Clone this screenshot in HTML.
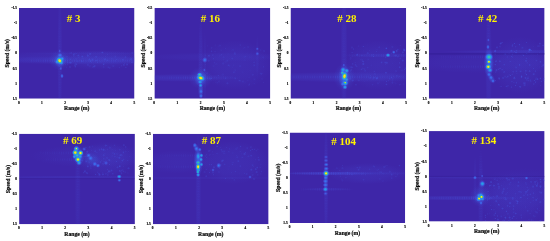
<!DOCTYPE html>
<html><head><meta charset="utf-8"><title>Range-Doppler maps</title>
<style>html,body{margin:0;padding:0;background:#fff}svg{display:block}text{font-family:"Liberation Serif",serif;font-weight:bold}</style></head><body>
<svg width="550" height="241" viewBox="0 0 550 241">
<defs>
<radialGradient id="hot"><stop offset="0" stop-color="#F7C82C"/><stop offset=".08" stop-color="#F9DE22"/><stop offset=".17" stop-color="#FBEE1E"/><stop offset=".27" stop-color="#E6CE30"/><stop offset=".4" stop-color="#7DCB5C"/><stop offset=".54" stop-color="#22B6CC"/><stop offset=".72" stop-color="#2E88F5" stop-opacity=".8"/><stop offset="1" stop-color="#4659EA" stop-opacity="0"/></radialGradient>
<radialGradient id="warm"><stop offset="0" stop-color="#5FCB7A"/><stop offset=".3" stop-color="#22B8CC"/><stop offset=".6" stop-color="#2E88F5" stop-opacity=".8"/><stop offset="1" stop-color="#4659EA" stop-opacity="0"/></radialGradient>
<radialGradient id="cyan"><stop offset="0" stop-color="#20B4D4"/><stop offset=".35" stop-color="#2A94F0" stop-opacity=".9"/><stop offset="1" stop-color="#4659EA" stop-opacity="0"/></radialGradient>
<radialGradient id="cool"><stop offset="0" stop-color="#2F84F6"/><stop offset=".4" stop-color="#3F6CF0" stop-opacity=".7"/><stop offset="1" stop-color="#4659EA" stop-opacity="0"/></radialGradient>
<radialGradient id="halo"><stop offset="0" stop-color="#2F86F4" stop-opacity=".85"/><stop offset=".5" stop-color="#3B72F0" stop-opacity=".55"/><stop offset="1" stop-color="#4659EA" stop-opacity="0"/></radialGradient>
<radialGradient id="faint"><stop offset="0" stop-color="#4464EC" stop-opacity=".9"/><stop offset="1" stop-color="#4659EA" stop-opacity="0"/></radialGradient>
<radialGradient id="st"><stop offset="0" stop-color="#4A58E4"/><stop offset=".55" stop-color="#4A58E4" stop-opacity=".75"/><stop offset="1" stop-color="#4A58E4" stop-opacity="0"/></radialGradient>
<linearGradient id="sv" x1="0" x2="1" y1="0" y2="0"><stop offset="0" stop-color="#4A55E0" stop-opacity="0"/><stop offset=".5" stop-color="#4A55E0"/><stop offset="1" stop-color="#4A55E0" stop-opacity="0"/></linearGradient>
<linearGradient id="sh" x1="0" x2="0" y1="0" y2="1"><stop offset="0" stop-color="#4A55E0" stop-opacity="0"/><stop offset=".5" stop-color="#4A55E0"/><stop offset="1" stop-color="#4A55E0" stop-opacity="0"/></linearGradient>

<clipPath id="c0"><rect x="19" y="8" width="115.5" height="90.7"/></clipPath>
<clipPath id="c1"><rect x="154.4" y="8" width="115.9" height="90.7"/></clipPath>
<clipPath id="c2"><rect x="290.5" y="8" width="115.7" height="90.7"/></clipPath>
<clipPath id="c3"><rect x="428.8" y="8" width="115.8" height="90.7"/></clipPath>
<clipPath id="c4"><rect x="19.1" y="133.7" width="115.8" height="90.6"/></clipPath>
<clipPath id="c5"><rect x="152.9" y="133.8" width="115.7" height="90.5"/></clipPath>
<clipPath id="c6"><rect x="289.7" y="132.5" width="115.5" height="90.6"/></clipPath>
<clipPath id="c7"><rect x="428.8" y="131.1" width="115.8" height="90.5"/></clipPath>
<filter id="bl" x="-20%" y="-20%" width="140%" height="140%"><feGaussianBlur stdDeviation="0.45"/></filter>
</defs>
<rect width="550" height="241" fill="#fff"/>
<g clip-path="url(#c0)">
<rect x="19" y="8" width="115.5" height="90.7" fill="#3E26A8"/>
<ellipse cx="59.8" cy="57.5" rx="2.55" ry="67.5" fill="url(#st)" opacity="0.15"/>
<ellipse cx="85" cy="60.2" rx="115" ry="4.23" fill="url(#st)" opacity="0.18"/>
<ellipse cx="90" cy="57.5" rx="110" ry="7.15" fill="url(#st)" opacity="0.14"/>
<ellipse cx="99.5" cy="53.4" rx="80.5" ry="1.3" fill="url(#st)" opacity="0.08"/>
<ellipse cx="57" cy="60.8" rx="0.9" ry="2.0" fill="url(#faint)" opacity="0.34"/>
<ellipse cx="54.7" cy="60.8" rx="0.9" ry="2.0" fill="url(#faint)" opacity="0.31"/>
<ellipse cx="52.4" cy="60.8" rx="0.9" ry="2.0" fill="url(#faint)" opacity="0.29"/>
<ellipse cx="50.1" cy="60.8" rx="0.9" ry="2.0" fill="url(#faint)" opacity="0.27"/>
<ellipse cx="47.8" cy="60.8" rx="0.9" ry="2.0" fill="url(#faint)" opacity="0.25"/>
<ellipse cx="45.5" cy="60.8" rx="0.9" ry="2.0" fill="url(#faint)" opacity="0.23"/>
<ellipse cx="43.2" cy="60.8" rx="0.9" ry="2.0" fill="url(#faint)" opacity="0.22"/>
<ellipse cx="40.9" cy="60.8" rx="0.9" ry="2.0" fill="url(#faint)" opacity="0.2"/>
<ellipse cx="38.6" cy="60.8" rx="0.9" ry="2.0" fill="url(#faint)" opacity="0.19"/>
<ellipse cx="36.3" cy="60.8" rx="0.9" ry="2.0" fill="url(#faint)" opacity="0.17"/>
<ellipse cx="34" cy="60.8" rx="0.9" ry="2.0" fill="url(#faint)" opacity="0.16"/>
<ellipse cx="31.7" cy="60.8" rx="0.9" ry="2.0" fill="url(#faint)" opacity="0.15"/>
<ellipse cx="63" cy="60.8" rx="0.9" ry="2.0" fill="url(#faint)" opacity="0.34"/>
<ellipse cx="65.3" cy="60.8" rx="0.9" ry="2.0" fill="url(#faint)" opacity="0.33"/>
<ellipse cx="67.6" cy="60.8" rx="0.9" ry="2.0" fill="url(#faint)" opacity="0.32"/>
<ellipse cx="69.9" cy="60.8" rx="0.9" ry="2.0" fill="url(#faint)" opacity="0.31"/>
<ellipse cx="72.2" cy="60.8" rx="0.9" ry="2.0" fill="url(#faint)" opacity="0.3"/>
<ellipse cx="74.5" cy="60.8" rx="0.9" ry="2.0" fill="url(#faint)" opacity="0.3"/>
<ellipse cx="76.8" cy="60.8" rx="0.9" ry="2.0" fill="url(#faint)" opacity="0.29"/>
<ellipse cx="79.1" cy="60.8" rx="0.9" ry="2.0" fill="url(#faint)" opacity="0.28"/>
<ellipse cx="81.4" cy="60.8" rx="0.9" ry="2.0" fill="url(#faint)" opacity="0.27"/>
<ellipse cx="83.7" cy="60.8" rx="0.9" ry="2.0" fill="url(#faint)" opacity="0.27"/>
<ellipse cx="86" cy="60.8" rx="0.9" ry="2.0" fill="url(#faint)" opacity="0.26"/>
<ellipse cx="88.3" cy="60.8" rx="0.9" ry="2.0" fill="url(#faint)" opacity="0.25"/>
<ellipse cx="90.6" cy="60.8" rx="0.9" ry="2.0" fill="url(#faint)" opacity="0.25"/>
<ellipse cx="92.9" cy="60.8" rx="0.9" ry="2.0" fill="url(#faint)" opacity="0.24"/>
<ellipse cx="95.2" cy="60.8" rx="0.9" ry="2.0" fill="url(#faint)" opacity="0.24"/>
<ellipse cx="97.5" cy="60.8" rx="0.9" ry="2.0" fill="url(#faint)" opacity="0.23"/>
<ellipse cx="99.8" cy="60.8" rx="0.9" ry="2.0" fill="url(#faint)" opacity="0.22"/>
<ellipse cx="102.1" cy="60.8" rx="0.9" ry="2.0" fill="url(#faint)" opacity="0.22"/>
<ellipse cx="104.4" cy="60.8" rx="0.9" ry="2.0" fill="url(#faint)" opacity="0.21"/>
<ellipse cx="106.7" cy="60.8" rx="0.9" ry="2.0" fill="url(#faint)" opacity="0.21"/>
<ellipse cx="109" cy="60.8" rx="0.9" ry="2.0" fill="url(#faint)" opacity="0.2"/>
<ellipse cx="111.3" cy="60.8" rx="0.9" ry="2.0" fill="url(#faint)" opacity="0.2"/>
<ellipse cx="113.6" cy="60.8" rx="0.9" ry="2.0" fill="url(#faint)" opacity="0.19"/>
<ellipse cx="115.9" cy="60.8" rx="0.9" ry="2.0" fill="url(#faint)" opacity="0.19"/>
<ellipse cx="118.2" cy="60.8" rx="0.9" ry="2.0" fill="url(#faint)" opacity="0.18"/>
<ellipse cx="120.5" cy="60.8" rx="0.9" ry="2.0" fill="url(#faint)" opacity="0.18"/>
<ellipse cx="122.8" cy="60.8" rx="0.9" ry="2.0" fill="url(#faint)" opacity="0.17"/>
<ellipse cx="125.1" cy="60.8" rx="0.9" ry="2.0" fill="url(#faint)" opacity="0.17"/>
<ellipse cx="127.4" cy="60.8" rx="0.9" ry="2.0" fill="url(#faint)" opacity="0.17"/>
<ellipse cx="129.7" cy="60.8" rx="0.9" ry="2.0" fill="url(#faint)" opacity="0.16"/>
<ellipse cx="132" cy="60.8" rx="0.9" ry="2.0" fill="url(#faint)" opacity="0.16"/>
<ellipse cx="59.8" cy="64" rx="2.2" ry="0.9" fill="url(#faint)" opacity="0.14"/>
<ellipse cx="59.8" cy="66.6" rx="2.2" ry="0.9" fill="url(#faint)" opacity="0.12"/>
<ellipse cx="59.8" cy="69.2" rx="2.2" ry="0.9" fill="url(#faint)" opacity="0.11"/>
<ellipse cx="59.8" cy="71.8" rx="2.2" ry="0.9" fill="url(#faint)" opacity="0.1"/>
<ellipse cx="59.8" cy="74.4" rx="2.2" ry="0.9" fill="url(#faint)" opacity="0.09"/>
<ellipse cx="59.8" cy="77" rx="2.2" ry="0.9" fill="url(#faint)" opacity="0.08"/>
<ellipse cx="59.8" cy="79.6" rx="2.2" ry="0.9" fill="url(#faint)" opacity="0.07"/>
<ellipse cx="59.8" cy="82.2" rx="2.2" ry="0.9" fill="url(#faint)" opacity="0.07"/>
<ellipse cx="59.8" cy="84.8" rx="2.2" ry="0.9" fill="url(#faint)" opacity="0.06"/>
<ellipse cx="59.8" cy="87.4" rx="2.2" ry="0.9" fill="url(#faint)" opacity="0.05"/>
<ellipse cx="59.8" cy="90" rx="2.2" ry="0.9" fill="url(#faint)" opacity="0.05"/>
<ellipse cx="59.8" cy="92.6" rx="2.2" ry="0.9" fill="url(#faint)" opacity="0.04"/>
<ellipse cx="59.8" cy="95.2" rx="2.2" ry="0.9" fill="url(#faint)" opacity="0.04"/>
<ellipse cx="59.8" cy="97.8" rx="2.2" ry="0.9" fill="url(#faint)" opacity="0.04"/>
<ellipse cx="59.8" cy="52" rx="2.2" ry="0.9" fill="url(#faint)" opacity="0.12"/>
<ellipse cx="59.8" cy="49.4" rx="2.2" ry="0.9" fill="url(#faint)" opacity="0.1"/>
<ellipse cx="59.8" cy="46.8" rx="2.2" ry="0.9" fill="url(#faint)" opacity="0.08"/>
<ellipse cx="59.8" cy="44.2" rx="2.2" ry="0.9" fill="url(#faint)" opacity="0.07"/>
<ellipse cx="59.8" cy="41.6" rx="2.2" ry="0.9" fill="url(#faint)" opacity="0.06"/>
<ellipse cx="59.8" cy="39" rx="2.2" ry="0.9" fill="url(#faint)" opacity="0.05"/>
<ellipse cx="59.8" cy="36.4" rx="2.2" ry="0.9" fill="url(#faint)" opacity="0.04"/>
<ellipse cx="59.8" cy="33.8" rx="2.2" ry="0.9" fill="url(#faint)" opacity="0.04"/>
<ellipse cx="59.8" cy="31.2" rx="2.2" ry="0.9" fill="url(#faint)" opacity="0.03"/>
<ellipse cx="59.8" cy="28.6" rx="2.2" ry="0.9" fill="url(#faint)" opacity="0.03"/>
<ellipse cx="59.8" cy="26" rx="2.2" ry="0.9" fill="url(#faint)" opacity="0.02"/>
<ellipse cx="59.8" cy="23.4" rx="2.2" ry="0.9" fill="url(#faint)" opacity="0.02"/>
<ellipse cx="59.8" cy="20.8" rx="2.2" ry="0.9" fill="url(#faint)" opacity="0.02"/>
<ellipse cx="99.5" cy="60" rx="42.78" ry="9.92" fill="url(#st)" opacity=".16"/>
<circle cx="87.34" cy="54.41" r="1.29" fill="url(#faint)" opacity="0.14"/>
<circle cx="101.98" cy="57.85" r="0.75" fill="url(#faint)" opacity="0.28"/>
<circle cx="67.59" cy="58.94" r="0.76" fill="url(#faint)" opacity="0.15"/>
<circle cx="94.29" cy="65.23" r="0.81" fill="url(#faint)" opacity="0.19"/>
<circle cx="108.29" cy="67.16" r="1.22" fill="url(#faint)" opacity="0.25"/>
<circle cx="132.36" cy="52.75" r="1.47" fill="url(#faint)" opacity="0.21"/>
<circle cx="74.95" cy="53.88" r="0.98" fill="url(#faint)" opacity="0.38"/>
<circle cx="77.47" cy="61.31" r="1.28" fill="url(#faint)" opacity="0.24"/>
<circle cx="102.79" cy="53" r="0.75" fill="url(#faint)" opacity="0.19"/>
<circle cx="111.95" cy="58.84" r="0.98" fill="url(#faint)" opacity="0.31"/>
<circle cx="96.27" cy="56.8" r="1.41" fill="url(#faint)" opacity="0.34"/>
<circle cx="81.84" cy="61.19" r="1.17" fill="url(#faint)" opacity="0.4"/>
<circle cx="115.33" cy="56.61" r="1.58" fill="url(#faint)" opacity="0.16"/>
<circle cx="93.85" cy="64.11" r="0.84" fill="url(#faint)" opacity="0.28"/>
<circle cx="67.71" cy="62.69" r="1.39" fill="url(#faint)" opacity="0.3"/>
<circle cx="125.41" cy="57.02" r="1.33" fill="url(#faint)" opacity="0.31"/>
<circle cx="105.01" cy="59.3" r="1.46" fill="url(#faint)" opacity="0.42"/>
<circle cx="97.71" cy="62.63" r="0.75" fill="url(#faint)" opacity="0.34"/>
<circle cx="109.65" cy="67.89" r="1.44" fill="url(#faint)" opacity="0.21"/>
<circle cx="91.62" cy="62.7" r="0.72" fill="url(#faint)" opacity="0.27"/>
<circle cx="76.6" cy="53.87" r="0.75" fill="url(#faint)" opacity="0.37"/>
<circle cx="73.92" cy="55.96" r="1.05" fill="url(#faint)" opacity="0.4"/>
<circle cx="70.56" cy="59.19" r="1.19" fill="url(#faint)" opacity="0.4"/>
<circle cx="121.53" cy="65.82" r="0.95" fill="url(#faint)" opacity="0.25"/>
<circle cx="89.76" cy="66.15" r="1.56" fill="url(#faint)" opacity="0.17"/>
<circle cx="77.16" cy="55.71" r="0.91" fill="url(#faint)" opacity="0.28"/>
<circle cx="105.65" cy="56.2" r="0.7" fill="url(#faint)" opacity="0.25"/>
<circle cx="90.48" cy="61.06" r="1.56" fill="url(#faint)" opacity="0.34"/>
<circle cx="100.57" cy="61.88" r="1.31" fill="url(#faint)" opacity="0.14"/>
<circle cx="127.07" cy="64.48" r="1.49" fill="url(#faint)" opacity="0.38"/>
<circle cx="92.07" cy="58.38" r="0.79" fill="url(#faint)" opacity="0.32"/>
<circle cx="69.3" cy="53.08" r="0.89" fill="url(#faint)" opacity="0.17"/>
<circle cx="88.46" cy="52.84" r="0.7" fill="url(#faint)" opacity="0.17"/>
<circle cx="72" cy="57.82" r="0.72" fill="url(#faint)" opacity="0.4"/>
<circle cx="107.37" cy="54.38" r="0.93" fill="url(#faint)" opacity="0.23"/>
<circle cx="90.13" cy="53.97" r="1.46" fill="url(#faint)" opacity="0.44"/>
<circle cx="97.15" cy="59.74" r="0.78" fill="url(#faint)" opacity="0.15"/>
<circle cx="88.64" cy="56.24" r="1.45" fill="url(#faint)" opacity="0.17"/>
<circle cx="66.59" cy="67.22" r="1.18" fill="url(#faint)" opacity="0.17"/>
<circle cx="102.48" cy="52.43" r="1.18" fill="url(#faint)" opacity="0.43"/>
<circle cx="124.57" cy="63.14" r="0.94" fill="url(#faint)" opacity="0.24"/>
<circle cx="76.53" cy="64.35" r="1.18" fill="url(#faint)" opacity="0.37"/>
<circle cx="87.75" cy="55.57" r="1.43" fill="url(#faint)" opacity="0.44"/>
<circle cx="123.83" cy="64.9" r="1.44" fill="url(#faint)" opacity="0.36"/>
<circle cx="80.65" cy="60.28" r="1.02" fill="url(#faint)" opacity="0.13"/>
<circle cx="66.93" cy="56.47" r="0.93" fill="url(#faint)" opacity="0.34"/>
<circle cx="131" cy="59.16" r="1.54" fill="url(#faint)" opacity="0.44"/>
<circle cx="130.9" cy="57.83" r="0.9" fill="url(#faint)" opacity="0.19"/>
<circle cx="78.57" cy="55.27" r="1.26" fill="url(#faint)" opacity="0.41"/>
<circle cx="122.99" cy="59.67" r="1.29" fill="url(#faint)" opacity="0.38"/>
<circle cx="70.85" cy="62.57" r="1.52" fill="url(#faint)" opacity="0.37"/>
<circle cx="116.76" cy="59.65" r="0.86" fill="url(#faint)" opacity="0.37"/>
<circle cx="87.94" cy="64.81" r="1.57" fill="url(#faint)" opacity="0.25"/>
<circle cx="92.7" cy="67.15" r="1.35" fill="url(#faint)" opacity="0.17"/>
<circle cx="73.77" cy="54.42" r="1.51" fill="url(#faint)" opacity="0.38"/>
<circle cx="75.09" cy="65.22" r="1.58" fill="url(#faint)" opacity="0.33"/>
<circle cx="89.18" cy="60.78" r="0.82" fill="url(#faint)" opacity="0.12"/>
<circle cx="131.99" cy="62.39" r="1.17" fill="url(#faint)" opacity="0.42"/>
<circle cx="94.93" cy="65.95" r="1.44" fill="url(#faint)" opacity="0.19"/>
<circle cx="82.38" cy="56.69" r="0.92" fill="url(#faint)" opacity="0.31"/>
<circle cx="82.9" cy="58.7" r="0.82" fill="url(#faint)" opacity="0.41"/>
<circle cx="89.41" cy="59.33" r="1.23" fill="url(#faint)" opacity="0.41"/>
<circle cx="94.02" cy="66.68" r="1.15" fill="url(#faint)" opacity="0.29"/>
<circle cx="101.12" cy="52.3" r="1.1" fill="url(#faint)" opacity="0.18"/>
<circle cx="65.27" cy="64.79" r="0.86" fill="url(#faint)" opacity="0.27"/>
<circle cx="115.04" cy="60.9" r="0.99" fill="url(#faint)" opacity="0.29"/>
<circle cx="103.33" cy="64.55" r="0.8" fill="url(#faint)" opacity="0.3"/>
<circle cx="82.15" cy="56.43" r="1.4" fill="url(#faint)" opacity="0.28"/>
<circle cx="103.76" cy="64.16" r="1.52" fill="url(#faint)" opacity="0.26"/>
<circle cx="107.26" cy="60.09" r="1.16" fill="url(#faint)" opacity="0.34"/>
<circle cx="96.21" cy="60.53" r="1.13" fill="url(#faint)" opacity="0.42"/>
<circle cx="113.25" cy="66.02" r="1.55" fill="url(#faint)" opacity="0.2"/>
<circle cx="103.61" cy="67.09" r="1.46" fill="url(#faint)" opacity="0.16"/>
<circle cx="73.39" cy="59.07" r="0.77" fill="url(#faint)" opacity="0.2"/>
<circle cx="70.05" cy="62.71" r="1.41" fill="url(#faint)" opacity="0.41"/>
<circle cx="75.66" cy="63.46" r="1.29" fill="url(#faint)" opacity="0.17"/>
<circle cx="125.92" cy="67.48" r="0.9" fill="url(#faint)" opacity="0.42"/>
<circle cx="92.48" cy="59.8" r="1.59" fill="url(#faint)" opacity="0.39"/>
<circle cx="76.14" cy="58.9" r="1.16" fill="url(#faint)" opacity="0.23"/>
<circle cx="78.51" cy="57.1" r="1.35" fill="url(#faint)" opacity="0.13"/>
<circle cx="103.23" cy="59.05" r="0.72" fill="url(#faint)" opacity="0.23"/>
<circle cx="108.05" cy="60.2" r="0.76" fill="url(#faint)" opacity="0.44"/>
<circle cx="119.4" cy="67.55" r="0.79" fill="url(#faint)" opacity="0.2"/>
<circle cx="67.73" cy="64.46" r="0.94" fill="url(#faint)" opacity="0.16"/>
<circle cx="94.14" cy="66.58" r="1.44" fill="url(#faint)" opacity="0.2"/>
<circle cx="75.31" cy="66.71" r="1.21" fill="url(#faint)" opacity="0.34"/>
<circle cx="71.17" cy="52.92" r="1.32" fill="url(#faint)" opacity="0.26"/>
<circle cx="70" cy="67.01" r="1.27" fill="url(#faint)" opacity="0.38"/>
<ellipse cx="59.9" cy="60.6" rx="6" ry="7" fill="url(#halo)" opacity="0.8"/>
<ellipse cx="59.5" cy="60" rx="11" ry="10" fill="url(#halo)" opacity="0.3"/>
<ellipse cx="59.9" cy="55.2" rx="2.6" ry="2.3" fill="url(#cool)"/>
<ellipse cx="62" cy="58.8" rx="2.3" ry="2.2" fill="url(#cyan)"/>
<ellipse cx="57.2" cy="61.8" rx="2.3" ry="2.4" fill="url(#cyan)"/>
<ellipse cx="61.6" cy="63" rx="2" ry="2" fill="url(#cyan)"/>
<ellipse cx="59.7" cy="60.7" rx="3.4" ry="4.1" fill="url(#hot)" transform="rotate(-30 59.7 60.7)"/>
<ellipse cx="62" cy="76" rx="1.8" ry="2.4" fill="url(#cool)"/>
<ellipse cx="60.8" cy="68.5" rx="1.5" ry="2" fill="url(#faint)"/>
<ellipse cx="59.6" cy="51" rx="1.4" ry="1.8" fill="url(#faint)"/>
</g>
<text x="73.6" y="21.9" font-size="11" fill="#FFF200" text-anchor="middle"># 3</text>
<text x="16.9" y="9.3" font-size="3.4" fill="#000" stroke="#000" stroke-width=".16" text-anchor="end">-1.5</text>
<text x="16.9" y="24.35" font-size="3.4" fill="#000" stroke="#000" stroke-width=".16" text-anchor="end">-1</text>
<text x="16.9" y="39.4" font-size="3.4" fill="#000" stroke="#000" stroke-width=".16" text-anchor="end">-0.5</text>
<text x="16.9" y="54.45" font-size="3.4" fill="#000" stroke="#000" stroke-width=".16" text-anchor="end">0</text>
<text x="16.9" y="69.5" font-size="3.4" fill="#000" stroke="#000" stroke-width=".16" text-anchor="end">0.5</text>
<text x="16.9" y="84.55" font-size="3.4" fill="#000" stroke="#000" stroke-width=".16" text-anchor="end">1</text>
<text x="16.9" y="99.6" font-size="3.4" fill="#000" stroke="#000" stroke-width=".16" text-anchor="end">1.5</text>
<text x="18.8" y="103.8" font-size="3.4" fill="#000" stroke="#000" stroke-width=".16" text-anchor="middle">0</text>
<text x="41.9" y="103.8" font-size="3.4" fill="#000" stroke="#000" stroke-width=".16" text-anchor="middle">1</text>
<text x="65" y="103.8" font-size="3.4" fill="#000" stroke="#000" stroke-width=".16" text-anchor="middle">2</text>
<text x="88.1" y="103.8" font-size="3.4" fill="#000" stroke="#000" stroke-width=".16" text-anchor="middle">3</text>
<text x="111.2" y="103.8" font-size="3.4" fill="#000" stroke="#000" stroke-width=".16" text-anchor="middle">4</text>
<text x="134.3" y="103.8" font-size="3.4" fill="#000" stroke="#000" stroke-width=".16" text-anchor="middle">5</text>
<text x="76.75" y="110.3" font-size="5.7" fill="#0a0a0a" stroke="#0a0a0a" stroke-width=".2" text-anchor="middle">Range (m)</text>
<text transform="translate(9.4 53.35) rotate(-90)" font-size="5.7" fill="#0a0a0a" stroke="#0a0a0a" stroke-width=".2" text-anchor="middle">Speed (m/s)</text>
<g clip-path="url(#c1)">
<rect x="154.4" y="8" width="115.9" height="90.7" fill="#3E26A8"/>
<ellipse cx="200.7" cy="70" rx="2.7" ry="55" fill="url(#st)" opacity="0.16"/>
<ellipse cx="204.8" cy="70" rx="1.8" ry="40" fill="url(#st)" opacity="0.09"/>
<ellipse cx="180" cy="77.8" rx="60" ry="3.9" fill="url(#st)" opacity="0.21"/>
<ellipse cx="220" cy="57" rx="80" ry="4.55" fill="url(#st)" opacity="0.1"/>
<ellipse cx="257.3" cy="57.5" rx="1.8" ry="22.5" fill="url(#st)" opacity="0.09"/>
<ellipse cx="197" cy="77.8" rx="0.9" ry="2.0" fill="url(#faint)" opacity="0.34"/>
<ellipse cx="194.7" cy="77.8" rx="0.9" ry="2.0" fill="url(#faint)" opacity="0.31"/>
<ellipse cx="192.4" cy="77.8" rx="0.9" ry="2.0" fill="url(#faint)" opacity="0.29"/>
<ellipse cx="190.1" cy="77.8" rx="0.9" ry="2.0" fill="url(#faint)" opacity="0.27"/>
<ellipse cx="187.8" cy="77.8" rx="0.9" ry="2.0" fill="url(#faint)" opacity="0.25"/>
<ellipse cx="185.5" cy="77.8" rx="0.9" ry="2.0" fill="url(#faint)" opacity="0.23"/>
<ellipse cx="183.2" cy="77.8" rx="0.9" ry="2.0" fill="url(#faint)" opacity="0.22"/>
<ellipse cx="180.9" cy="77.8" rx="0.9" ry="2.0" fill="url(#faint)" opacity="0.2"/>
<ellipse cx="178.6" cy="77.8" rx="0.9" ry="2.0" fill="url(#faint)" opacity="0.19"/>
<ellipse cx="176.3" cy="77.8" rx="0.9" ry="2.0" fill="url(#faint)" opacity="0.17"/>
<ellipse cx="174" cy="77.8" rx="0.9" ry="2.0" fill="url(#faint)" opacity="0.16"/>
<ellipse cx="171.7" cy="77.8" rx="0.9" ry="2.0" fill="url(#faint)" opacity="0.15"/>
<ellipse cx="169.4" cy="77.8" rx="0.9" ry="2.0" fill="url(#faint)" opacity="0.14"/>
<ellipse cx="167.1" cy="77.8" rx="0.9" ry="2.0" fill="url(#faint)" opacity="0.13"/>
<ellipse cx="164.8" cy="77.8" rx="0.9" ry="2.0" fill="url(#faint)" opacity="0.12"/>
<ellipse cx="162.5" cy="77.8" rx="0.9" ry="2.0" fill="url(#faint)" opacity="0.11"/>
<ellipse cx="160.2" cy="77.8" rx="0.9" ry="2.0" fill="url(#faint)" opacity="0.11"/>
<ellipse cx="205" cy="77.8" rx="0.9" ry="2.0" fill="url(#faint)" opacity="0.21"/>
<ellipse cx="207.3" cy="77.8" rx="0.9" ry="2.0" fill="url(#faint)" opacity="0.19"/>
<ellipse cx="209.6" cy="77.8" rx="0.9" ry="2.0" fill="url(#faint)" opacity="0.17"/>
<ellipse cx="211.9" cy="77.8" rx="0.9" ry="2.0" fill="url(#faint)" opacity="0.15"/>
<ellipse cx="214.2" cy="77.8" rx="0.9" ry="2.0" fill="url(#faint)" opacity="0.14"/>
<ellipse cx="216.5" cy="77.8" rx="0.9" ry="2.0" fill="url(#faint)" opacity="0.12"/>
<ellipse cx="218.8" cy="77.8" rx="0.9" ry="2.0" fill="url(#faint)" opacity="0.11"/>
<ellipse cx="221.1" cy="77.8" rx="0.9" ry="2.0" fill="url(#faint)" opacity="0.1"/>
<ellipse cx="223.4" cy="77.8" rx="0.9" ry="2.0" fill="url(#faint)" opacity="0.09"/>
<ellipse cx="225.7" cy="77.8" rx="0.9" ry="2.0" fill="url(#faint)" opacity="0.08"/>
<ellipse cx="228" cy="77.8" rx="0.9" ry="2.0" fill="url(#faint)" opacity="0.07"/>
<ellipse cx="230.3" cy="77.8" rx="0.9" ry="2.0" fill="url(#faint)" opacity="0.07"/>
<ellipse cx="232.6" cy="77.8" rx="0.9" ry="2.0" fill="url(#faint)" opacity="0.06"/>
<ellipse cx="234.9" cy="77.8" rx="0.9" ry="2.0" fill="url(#faint)" opacity="0.05"/>
<ellipse cx="237.2" cy="77.8" rx="0.9" ry="2.0" fill="url(#faint)" opacity="0.05"/>
<ellipse cx="239.5" cy="77.8" rx="0.9" ry="2.0" fill="url(#faint)" opacity="0.04"/>
<ellipse cx="200.7" cy="70" rx="2.2" ry="0.9" fill="url(#faint)" opacity="0.12"/>
<ellipse cx="200.7" cy="67.4" rx="2.2" ry="0.9" fill="url(#faint)" opacity="0.1"/>
<ellipse cx="200.7" cy="64.8" rx="2.2" ry="0.9" fill="url(#faint)" opacity="0.09"/>
<ellipse cx="200.7" cy="62.2" rx="2.2" ry="0.9" fill="url(#faint)" opacity="0.08"/>
<ellipse cx="200.7" cy="59.6" rx="2.2" ry="0.9" fill="url(#faint)" opacity="0.08"/>
<ellipse cx="200.7" cy="57" rx="2.2" ry="0.9" fill="url(#faint)" opacity="0.07"/>
<ellipse cx="200.7" cy="54.4" rx="2.2" ry="0.9" fill="url(#faint)" opacity="0.06"/>
<ellipse cx="200.7" cy="51.8" rx="2.2" ry="0.9" fill="url(#faint)" opacity="0.06"/>
<ellipse cx="200.7" cy="49.2" rx="2.2" ry="0.9" fill="url(#faint)" opacity="0.05"/>
<ellipse cx="200.7" cy="46.6" rx="2.2" ry="0.9" fill="url(#faint)" opacity="0.04"/>
<ellipse cx="200.7" cy="44" rx="2.2" ry="0.9" fill="url(#faint)" opacity="0.04"/>
<ellipse cx="200.7" cy="41.4" rx="2.2" ry="0.9" fill="url(#faint)" opacity="0.04"/>
<ellipse cx="200.7" cy="38.8" rx="2.2" ry="0.9" fill="url(#faint)" opacity="0.03"/>
<ellipse cx="200.7" cy="36.2" rx="2.2" ry="0.9" fill="url(#faint)" opacity="0.03"/>
<ellipse cx="200.7" cy="33.6" rx="2.2" ry="0.9" fill="url(#faint)" opacity="0.03"/>
<ellipse cx="200.7" cy="31" rx="2.2" ry="0.9" fill="url(#faint)" opacity="0.02"/>
<ellipse cx="200.7" cy="28.4" rx="2.2" ry="0.9" fill="url(#faint)" opacity="0.02"/>
<ellipse cx="200.7" cy="25.8" rx="2.2" ry="0.9" fill="url(#faint)" opacity="0.02"/>
<ellipse cx="200.7" cy="23.2" rx="2.2" ry="0.9" fill="url(#faint)" opacity="0.02"/>
<ellipse cx="200.7" cy="20.6" rx="2.2" ry="0.9" fill="url(#faint)" opacity="0.02"/>
<ellipse cx="200.7" cy="18" rx="2.2" ry="0.9" fill="url(#faint)" opacity="0.01"/>
<ellipse cx="200.7" cy="15.4" rx="2.2" ry="0.9" fill="url(#faint)" opacity="0.01"/>
<ellipse cx="200.7" cy="12.8" rx="2.2" ry="0.9" fill="url(#faint)" opacity="0.01"/>
<ellipse cx="235" cy="65" rx="37.2" ry="24.8" fill="url(#st)" opacity=".16"/>
<circle cx="210.02" cy="79.25" r="0.76" fill="url(#faint)" opacity="0.27"/>
<circle cx="232.23" cy="58.57" r="1.2" fill="url(#faint)" opacity="0.29"/>
<circle cx="221.07" cy="50.17" r="1.17" fill="url(#faint)" opacity="0.13"/>
<circle cx="211.57" cy="51.46" r="0.75" fill="url(#faint)" opacity="0.13"/>
<circle cx="223.72" cy="57.2" r="1.38" fill="url(#faint)" opacity="0.15"/>
<circle cx="235.01" cy="52.12" r="1.01" fill="url(#faint)" opacity="0.09"/>
<circle cx="220.03" cy="45.61" r="1.36" fill="url(#faint)" opacity="0.2"/>
<circle cx="216.37" cy="63.99" r="1.54" fill="url(#faint)" opacity="0.11"/>
<circle cx="254.14" cy="62.29" r="1.15" fill="url(#faint)" opacity="0.27"/>
<circle cx="228.59" cy="65.27" r="1.32" fill="url(#faint)" opacity="0.3"/>
<circle cx="225.56" cy="78.29" r="1.34" fill="url(#faint)" opacity="0.22"/>
<circle cx="229.28" cy="58.9" r="0.75" fill="url(#faint)" opacity="0.11"/>
<circle cx="209.24" cy="74.64" r="0.93" fill="url(#faint)" opacity="0.12"/>
<circle cx="210.07" cy="78.65" r="1.48" fill="url(#faint)" opacity="0.23"/>
<circle cx="221.92" cy="54.69" r="0.96" fill="url(#faint)" opacity="0.18"/>
<circle cx="214.45" cy="62.83" r="0.94" fill="url(#faint)" opacity="0.29"/>
<circle cx="263.36" cy="66.88" r="0.92" fill="url(#faint)" opacity="0.29"/>
<circle cx="223.57" cy="59.26" r="0.7" fill="url(#faint)" opacity="0.17"/>
<circle cx="233.48" cy="65.11" r="0.88" fill="url(#faint)" opacity="0.19"/>
<circle cx="205.3" cy="55.57" r="0.78" fill="url(#faint)" opacity="0.17"/>
<circle cx="207.5" cy="45.9" r="0.97" fill="url(#faint)" opacity="0.13"/>
<circle cx="240.13" cy="66.17" r="1.38" fill="url(#faint)" opacity="0.23"/>
<circle cx="247.96" cy="80.16" r="1.05" fill="url(#faint)" opacity="0.15"/>
<circle cx="264.08" cy="50.98" r="1.35" fill="url(#faint)" opacity="0.22"/>
<circle cx="207.63" cy="78.41" r="1.5" fill="url(#faint)" opacity="0.22"/>
<circle cx="249.03" cy="77.49" r="0.83" fill="url(#faint)" opacity="0.2"/>
<circle cx="235.26" cy="78.4" r="1.42" fill="url(#faint)" opacity="0.26"/>
<circle cx="240.04" cy="80.71" r="1.31" fill="url(#faint)" opacity="0.24"/>
<circle cx="218.8" cy="46.25" r="0.82" fill="url(#faint)" opacity="0.16"/>
<circle cx="211.29" cy="78.43" r="1.2" fill="url(#faint)" opacity="0.22"/>
<circle cx="242.57" cy="72.23" r="1.14" fill="url(#faint)" opacity="0.08"/>
<circle cx="252.86" cy="74.93" r="1.15" fill="url(#faint)" opacity="0.2"/>
<circle cx="244.56" cy="47.64" r="1.36" fill="url(#faint)" opacity="0.14"/>
<circle cx="209.47" cy="55.62" r="1.36" fill="url(#faint)" opacity="0.13"/>
<circle cx="249.39" cy="84.03" r="1.14" fill="url(#faint)" opacity="0.17"/>
<circle cx="233.74" cy="72.35" r="1.39" fill="url(#faint)" opacity="0.22"/>
<circle cx="243.57" cy="48.1" r="0.83" fill="url(#faint)" opacity="0.14"/>
<circle cx="249.59" cy="57.18" r="1.21" fill="url(#faint)" opacity="0.09"/>
<circle cx="208.64" cy="55.75" r="1.3" fill="url(#faint)" opacity="0.23"/>
<circle cx="245.54" cy="56.63" r="1.16" fill="url(#faint)" opacity="0.18"/>
<circle cx="232.98" cy="49.74" r="1.5" fill="url(#faint)" opacity="0.13"/>
<circle cx="263.69" cy="82.45" r="0.72" fill="url(#faint)" opacity="0.18"/>
<circle cx="254.19" cy="83.72" r="1.1" fill="url(#faint)" opacity="0.14"/>
<circle cx="217.59" cy="82.82" r="0.89" fill="url(#faint)" opacity="0.21"/>
<circle cx="213.5" cy="65.96" r="1.56" fill="url(#faint)" opacity="0.11"/>
<circle cx="254.21" cy="65.35" r="1.5" fill="url(#faint)" opacity="0.24"/>
<circle cx="218.88" cy="80.91" r="1.14" fill="url(#faint)" opacity="0.09"/>
<circle cx="205.22" cy="64.67" r="1.11" fill="url(#faint)" opacity="0.15"/>
<circle cx="213.44" cy="58.76" r="0.98" fill="url(#faint)" opacity="0.27"/>
<circle cx="205.1" cy="75.03" r="1.46" fill="url(#faint)" opacity="0.11"/>
<circle cx="260.58" cy="73.52" r="1.51" fill="url(#faint)" opacity="0.15"/>
<circle cx="227.33" cy="60.72" r="1.6" fill="url(#faint)" opacity="0.21"/>
<circle cx="226.64" cy="62.12" r="0.95" fill="url(#faint)" opacity="0.09"/>
<circle cx="211.1" cy="78.39" r="0.96" fill="url(#faint)" opacity="0.29"/>
<circle cx="219.96" cy="55.63" r="1.16" fill="url(#faint)" opacity="0.12"/>
<circle cx="227.4" cy="83.25" r="1.5" fill="url(#faint)" opacity="0.26"/>
<circle cx="242.85" cy="81.54" r="1.55" fill="url(#faint)" opacity="0.2"/>
<circle cx="248.17" cy="46.98" r="1.36" fill="url(#faint)" opacity="0.18"/>
<circle cx="250.16" cy="70.78" r="0.96" fill="url(#faint)" opacity="0.09"/>
<circle cx="260.61" cy="50.09" r="1.12" fill="url(#faint)" opacity="0.16"/>
<circle cx="222.87" cy="74.56" r="1.58" fill="url(#faint)" opacity="0.14"/>
<circle cx="244.36" cy="57.03" r="1.2" fill="url(#faint)" opacity="0.17"/>
<circle cx="215.04" cy="51.47" r="0.89" fill="url(#faint)" opacity="0.28"/>
<circle cx="234.82" cy="53.8" r="1.52" fill="url(#faint)" opacity="0.3"/>
<circle cx="232" cy="50.58" r="0.87" fill="url(#faint)" opacity="0.1"/>
<circle cx="225.52" cy="48.64" r="0.92" fill="url(#faint)" opacity="0.14"/>
<circle cx="239.18" cy="80.49" r="1.37" fill="url(#faint)" opacity="0.17"/>
<circle cx="229.83" cy="65.97" r="1.04" fill="url(#faint)" opacity="0.16"/>
<circle cx="208.72" cy="56.1" r="1.57" fill="url(#faint)" opacity="0.11"/>
<circle cx="235.2" cy="70.19" r="1.48" fill="url(#faint)" opacity="0.13"/>
<circle cx="221.26" cy="54.94" r="1.06" fill="url(#faint)" opacity="0.18"/>
<circle cx="262.24" cy="78.95" r="1.49" fill="url(#faint)" opacity="0.09"/>
<circle cx="206.93" cy="73.38" r="1.51" fill="url(#faint)" opacity="0.19"/>
<circle cx="240.23" cy="45.01" r="1.05" fill="url(#faint)" opacity="0.29"/>
<circle cx="254.54" cy="79.22" r="1.58" fill="url(#faint)" opacity="0.14"/>
<circle cx="211.54" cy="51.18" r="1.17" fill="url(#faint)" opacity="0.23"/>
<circle cx="261.49" cy="73.87" r="1.28" fill="url(#faint)" opacity="0.25"/>
<circle cx="232.44" cy="67.06" r="0.74" fill="url(#faint)" opacity="0.25"/>
<circle cx="218.95" cy="81.8" r="1.28" fill="url(#faint)" opacity="0.15"/>
<circle cx="212.68" cy="55.07" r="1.27" fill="url(#faint)" opacity="0.24"/>
<circle cx="211.73" cy="47.81" r="1.17" fill="url(#faint)" opacity="0.21"/>
<circle cx="228.28" cy="53.94" r="1.24" fill="url(#faint)" opacity="0.08"/>
<circle cx="223.09" cy="63.43" r="1.56" fill="url(#faint)" opacity="0.22"/>
<circle cx="258.03" cy="64.01" r="0.91" fill="url(#faint)" opacity="0.14"/>
<circle cx="262.64" cy="73.19" r="0.98" fill="url(#faint)" opacity="0.09"/>
<circle cx="234.9" cy="71.98" r="1.08" fill="url(#faint)" opacity="0.14"/>
<circle cx="245.04" cy="82.01" r="0.9" fill="url(#faint)" opacity="0.09"/>
<circle cx="225.28" cy="61.82" r="1.31" fill="url(#faint)" opacity="0.13"/>
<circle cx="252.82" cy="74.57" r="1.15" fill="url(#faint)" opacity="0.13"/>
<circle cx="263.19" cy="57.47" r="1.44" fill="url(#faint)" opacity="0.13"/>
<circle cx="218.29" cy="75.42" r="0.97" fill="url(#faint)" opacity="0.29"/>
<circle cx="234.75" cy="52.49" r="0.9" fill="url(#faint)" opacity="0.17"/>
<circle cx="244.92" cy="82.95" r="0.83" fill="url(#faint)" opacity="0.17"/>
<circle cx="217.78" cy="83.96" r="0.83" fill="url(#faint)" opacity="0.09"/>
<circle cx="208.61" cy="60.73" r="1.51" fill="url(#faint)" opacity="0.28"/>
<circle cx="248.96" cy="84.9" r="1.54" fill="url(#faint)" opacity="0.15"/>
<circle cx="216.13" cy="82.44" r="1.37" fill="url(#faint)" opacity="0.09"/>
<circle cx="244.87" cy="60.14" r="1.04" fill="url(#faint)" opacity="0.16"/>
<circle cx="215.16" cy="45.11" r="0.95" fill="url(#faint)" opacity="0.16"/>
<ellipse cx="200.6" cy="78.5" rx="6" ry="8" fill="url(#halo)" opacity="0.8" transform="rotate(10 200.6 78.5)"/>
<ellipse cx="200.6" cy="78" rx="12" ry="11" fill="url(#halo)" opacity="0.3"/>
<ellipse cx="200.8" cy="90" rx="3" ry="9" fill="url(#halo)" opacity="0.5"/>
<ellipse cx="200.7" cy="78" rx="4.6" ry="3.2" fill="url(#hot)" transform="rotate(20 200.7 78)"/>
<ellipse cx="199.6" cy="74.6" rx="2.8" ry="2.2" fill="url(#warm)"/>
<ellipse cx="200.2" cy="82" rx="2.6" ry="2.1" fill="url(#cyan)"/>
<ellipse cx="200.6" cy="85.4" rx="2.2" ry="2.1" fill="url(#cyan)"/>
<ellipse cx="201" cy="91.5" rx="2" ry="2.4" fill="url(#cool)"/>
<ellipse cx="201" cy="96" rx="2" ry="2.2" fill="url(#cool)"/>
<ellipse cx="204.8" cy="60" rx="2.8" ry="3" fill="url(#cool)"/>
<ellipse cx="204.4" cy="70" rx="1.4" ry="1.8" fill="url(#faint)"/>
<ellipse cx="257.3" cy="53.7" rx="2" ry="2" fill="url(#faint)"/>
<ellipse cx="257.3" cy="48.8" rx="1.6" ry="1.6" fill="url(#faint)"/>
</g>
<text x="210.3" y="22.3" font-size="11" fill="#FFF200" text-anchor="middle"># 16</text>
<text x="152.3" y="9.3" font-size="3.4" fill="#000" stroke="#000" stroke-width=".16" text-anchor="end">-1.5</text>
<text x="152.3" y="24.35" font-size="3.4" fill="#000" stroke="#000" stroke-width=".16" text-anchor="end">-1</text>
<text x="152.3" y="39.4" font-size="3.4" fill="#000" stroke="#000" stroke-width=".16" text-anchor="end">-0.5</text>
<text x="152.3" y="54.45" font-size="3.4" fill="#000" stroke="#000" stroke-width=".16" text-anchor="end">0</text>
<text x="152.3" y="69.5" font-size="3.4" fill="#000" stroke="#000" stroke-width=".16" text-anchor="end">0.5</text>
<text x="152.3" y="84.55" font-size="3.4" fill="#000" stroke="#000" stroke-width=".16" text-anchor="end">1</text>
<text x="152.3" y="99.6" font-size="3.4" fill="#000" stroke="#000" stroke-width=".16" text-anchor="end">1.5</text>
<text x="154.2" y="103.8" font-size="3.4" fill="#000" stroke="#000" stroke-width=".16" text-anchor="middle">0</text>
<text x="177.38" y="103.8" font-size="3.4" fill="#000" stroke="#000" stroke-width=".16" text-anchor="middle">1</text>
<text x="200.56" y="103.8" font-size="3.4" fill="#000" stroke="#000" stroke-width=".16" text-anchor="middle">2</text>
<text x="223.74" y="103.8" font-size="3.4" fill="#000" stroke="#000" stroke-width=".16" text-anchor="middle">3</text>
<text x="246.92" y="103.8" font-size="3.4" fill="#000" stroke="#000" stroke-width=".16" text-anchor="middle">4</text>
<text x="270.1" y="103.8" font-size="3.4" fill="#000" stroke="#000" stroke-width=".16" text-anchor="middle">5</text>
<text x="212.35" y="110.3" font-size="5.7" fill="#0a0a0a" stroke="#0a0a0a" stroke-width=".2" text-anchor="middle">Range (m)</text>
<text transform="translate(144.8 53.35) rotate(-90)" font-size="5.7" fill="#0a0a0a" stroke="#0a0a0a" stroke-width=".2" text-anchor="middle">Speed (m/s)</text>
<g clip-path="url(#c2)">
<rect x="290.5" y="8" width="115.7" height="90.7" fill="#3E26A8"/>
<ellipse cx="344" cy="55" rx="3.45" ry="70" fill="url(#st)" opacity="0.16"/>
<ellipse cx="345" cy="77" rx="95" ry="5.2" fill="url(#st)" opacity="0.21"/>
<ellipse cx="385" cy="55.4" rx="45" ry="2.21" fill="url(#st)" opacity="0.15"/>
<ellipse cx="340" cy="77" rx="0.9" ry="2.0" fill="url(#faint)" opacity="0.34"/>
<ellipse cx="337.7" cy="77" rx="0.9" ry="2.0" fill="url(#faint)" opacity="0.32"/>
<ellipse cx="335.4" cy="77" rx="0.9" ry="2.0" fill="url(#faint)" opacity="0.31"/>
<ellipse cx="333.1" cy="77" rx="0.9" ry="2.0" fill="url(#faint)" opacity="0.29"/>
<ellipse cx="330.8" cy="77" rx="0.9" ry="2.0" fill="url(#faint)" opacity="0.28"/>
<ellipse cx="328.5" cy="77" rx="0.9" ry="2.0" fill="url(#faint)" opacity="0.27"/>
<ellipse cx="326.2" cy="77" rx="0.9" ry="2.0" fill="url(#faint)" opacity="0.25"/>
<ellipse cx="323.9" cy="77" rx="0.9" ry="2.0" fill="url(#faint)" opacity="0.24"/>
<ellipse cx="321.6" cy="77" rx="0.9" ry="2.0" fill="url(#faint)" opacity="0.23"/>
<ellipse cx="319.3" cy="77" rx="0.9" ry="2.0" fill="url(#faint)" opacity="0.22"/>
<ellipse cx="317" cy="77" rx="0.9" ry="2.0" fill="url(#faint)" opacity="0.21"/>
<ellipse cx="314.7" cy="77" rx="0.9" ry="2.0" fill="url(#faint)" opacity="0.2"/>
<ellipse cx="312.4" cy="77" rx="0.9" ry="2.0" fill="url(#faint)" opacity="0.19"/>
<ellipse cx="310.1" cy="77" rx="0.9" ry="2.0" fill="url(#faint)" opacity="0.18"/>
<ellipse cx="307.8" cy="77" rx="0.9" ry="2.0" fill="url(#faint)" opacity="0.18"/>
<ellipse cx="305.5" cy="77" rx="0.9" ry="2.0" fill="url(#faint)" opacity="0.17"/>
<ellipse cx="303.2" cy="77" rx="0.9" ry="2.0" fill="url(#faint)" opacity="0.16"/>
<ellipse cx="300.9" cy="77" rx="0.9" ry="2.0" fill="url(#faint)" opacity="0.15"/>
<ellipse cx="298.6" cy="77" rx="0.9" ry="2.0" fill="url(#faint)" opacity="0.15"/>
<ellipse cx="296.3" cy="77" rx="0.9" ry="2.0" fill="url(#faint)" opacity="0.14"/>
<ellipse cx="294" cy="77" rx="0.9" ry="2.0" fill="url(#faint)" opacity="0.13"/>
<ellipse cx="348" cy="77" rx="0.9" ry="2.0" fill="url(#faint)" opacity="0.34"/>
<ellipse cx="350.3" cy="77" rx="0.9" ry="2.0" fill="url(#faint)" opacity="0.32"/>
<ellipse cx="352.6" cy="77" rx="0.9" ry="2.0" fill="url(#faint)" opacity="0.31"/>
<ellipse cx="354.9" cy="77" rx="0.9" ry="2.0" fill="url(#faint)" opacity="0.29"/>
<ellipse cx="357.2" cy="77" rx="0.9" ry="2.0" fill="url(#faint)" opacity="0.28"/>
<ellipse cx="359.5" cy="77" rx="0.9" ry="2.0" fill="url(#faint)" opacity="0.27"/>
<ellipse cx="361.8" cy="77" rx="0.9" ry="2.0" fill="url(#faint)" opacity="0.25"/>
<ellipse cx="364.1" cy="77" rx="0.9" ry="2.0" fill="url(#faint)" opacity="0.24"/>
<ellipse cx="366.4" cy="77" rx="0.9" ry="2.0" fill="url(#faint)" opacity="0.23"/>
<ellipse cx="368.7" cy="77" rx="0.9" ry="2.0" fill="url(#faint)" opacity="0.22"/>
<ellipse cx="371" cy="77" rx="0.9" ry="2.0" fill="url(#faint)" opacity="0.21"/>
<ellipse cx="373.3" cy="77" rx="0.9" ry="2.0" fill="url(#faint)" opacity="0.2"/>
<ellipse cx="375.6" cy="77" rx="0.9" ry="2.0" fill="url(#faint)" opacity="0.19"/>
<ellipse cx="377.9" cy="77" rx="0.9" ry="2.0" fill="url(#faint)" opacity="0.18"/>
<ellipse cx="380.2" cy="77" rx="0.9" ry="2.0" fill="url(#faint)" opacity="0.18"/>
<ellipse cx="382.5" cy="77" rx="0.9" ry="2.0" fill="url(#faint)" opacity="0.17"/>
<ellipse cx="384.8" cy="77" rx="0.9" ry="2.0" fill="url(#faint)" opacity="0.16"/>
<ellipse cx="387.1" cy="77" rx="0.9" ry="2.0" fill="url(#faint)" opacity="0.15"/>
<ellipse cx="389.4" cy="77" rx="0.9" ry="2.0" fill="url(#faint)" opacity="0.15"/>
<ellipse cx="391.7" cy="77" rx="0.9" ry="2.0" fill="url(#faint)" opacity="0.14"/>
<ellipse cx="394" cy="77" rx="0.9" ry="2.0" fill="url(#faint)" opacity="0.13"/>
<ellipse cx="396.3" cy="77" rx="0.9" ry="2.0" fill="url(#faint)" opacity="0.13"/>
<ellipse cx="398.6" cy="77" rx="0.9" ry="2.0" fill="url(#faint)" opacity="0.12"/>
<ellipse cx="400.9" cy="77" rx="0.9" ry="2.0" fill="url(#faint)" opacity="0.12"/>
<ellipse cx="403.2" cy="77" rx="0.9" ry="2.0" fill="url(#faint)" opacity="0.11"/>
<ellipse cx="386" cy="55.4" rx="0.9" ry="2.0" fill="url(#faint)" opacity="0.19"/>
<ellipse cx="383.6" cy="55.4" rx="0.9" ry="2.0" fill="url(#faint)" opacity="0.18"/>
<ellipse cx="381.2" cy="55.4" rx="0.9" ry="2.0" fill="url(#faint)" opacity="0.16"/>
<ellipse cx="378.8" cy="55.4" rx="0.9" ry="2.0" fill="url(#faint)" opacity="0.15"/>
<ellipse cx="376.4" cy="55.4" rx="0.9" ry="2.0" fill="url(#faint)" opacity="0.14"/>
<ellipse cx="374" cy="55.4" rx="0.9" ry="2.0" fill="url(#faint)" opacity="0.13"/>
<ellipse cx="371.6" cy="55.4" rx="0.9" ry="2.0" fill="url(#faint)" opacity="0.12"/>
<ellipse cx="369.2" cy="55.4" rx="0.9" ry="2.0" fill="url(#faint)" opacity="0.11"/>
<ellipse cx="366.8" cy="55.4" rx="0.9" ry="2.0" fill="url(#faint)" opacity="0.11"/>
<ellipse cx="364.4" cy="55.4" rx="0.9" ry="2.0" fill="url(#faint)" opacity="0.1"/>
<ellipse cx="362" cy="55.4" rx="0.9" ry="2.0" fill="url(#faint)" opacity="0.09"/>
<ellipse cx="359.6" cy="55.4" rx="0.9" ry="2.0" fill="url(#faint)" opacity="0.09"/>
<ellipse cx="357.2" cy="55.4" rx="0.9" ry="2.0" fill="url(#faint)" opacity="0.08"/>
<ellipse cx="354.8" cy="55.4" rx="0.9" ry="2.0" fill="url(#faint)" opacity="0.07"/>
<ellipse cx="352.4" cy="55.4" rx="0.9" ry="2.0" fill="url(#faint)" opacity="0.07"/>
<ellipse cx="350" cy="55.4" rx="0.9" ry="2.0" fill="url(#faint)" opacity="0.06"/>
<ellipse cx="394" cy="55.4" rx="0.9" ry="2.0" fill="url(#faint)" opacity="0.19"/>
<ellipse cx="396.4" cy="55.4" rx="0.9" ry="2.0" fill="url(#faint)" opacity="0.17"/>
<ellipse cx="398.8" cy="55.4" rx="0.9" ry="2.0" fill="url(#faint)" opacity="0.15"/>
<ellipse cx="401.2" cy="55.4" rx="0.9" ry="2.0" fill="url(#faint)" opacity="0.14"/>
<ellipse cx="403.6" cy="55.4" rx="0.9" ry="2.0" fill="url(#faint)" opacity="0.12"/>
<ellipse cx="406" cy="55.4" rx="0.9" ry="2.0" fill="url(#faint)" opacity="0.11"/>
<ellipse cx="344" cy="62" rx="2.2" ry="0.9" fill="url(#faint)" opacity="0.12"/>
<ellipse cx="344" cy="59.4" rx="2.2" ry="0.9" fill="url(#faint)" opacity="0.1"/>
<ellipse cx="344" cy="56.8" rx="2.2" ry="0.9" fill="url(#faint)" opacity="0.09"/>
<ellipse cx="344" cy="54.2" rx="2.2" ry="0.9" fill="url(#faint)" opacity="0.08"/>
<ellipse cx="344" cy="51.6" rx="2.2" ry="0.9" fill="url(#faint)" opacity="0.08"/>
<ellipse cx="344" cy="49" rx="2.2" ry="0.9" fill="url(#faint)" opacity="0.07"/>
<ellipse cx="344" cy="46.4" rx="2.2" ry="0.9" fill="url(#faint)" opacity="0.06"/>
<ellipse cx="344" cy="43.8" rx="2.2" ry="0.9" fill="url(#faint)" opacity="0.06"/>
<ellipse cx="344" cy="41.2" rx="2.2" ry="0.9" fill="url(#faint)" opacity="0.05"/>
<ellipse cx="344" cy="38.6" rx="2.2" ry="0.9" fill="url(#faint)" opacity="0.04"/>
<ellipse cx="344" cy="36" rx="2.2" ry="0.9" fill="url(#faint)" opacity="0.04"/>
<ellipse cx="344" cy="33.4" rx="2.2" ry="0.9" fill="url(#faint)" opacity="0.04"/>
<ellipse cx="344" cy="30.8" rx="2.2" ry="0.9" fill="url(#faint)" opacity="0.03"/>
<ellipse cx="344" cy="28.2" rx="2.2" ry="0.9" fill="url(#faint)" opacity="0.03"/>
<ellipse cx="344" cy="25.6" rx="2.2" ry="0.9" fill="url(#faint)" opacity="0.03"/>
<ellipse cx="344" cy="23" rx="2.2" ry="0.9" fill="url(#faint)" opacity="0.02"/>
<ellipse cx="344" cy="20.4" rx="2.2" ry="0.9" fill="url(#faint)" opacity="0.02"/>
<ellipse cx="344" cy="17.8" rx="2.2" ry="0.9" fill="url(#faint)" opacity="0.02"/>
<ellipse cx="344" cy="15.2" rx="2.2" ry="0.9" fill="url(#faint)" opacity="0.02"/>
<ellipse cx="344" cy="12.6" rx="2.2" ry="0.9" fill="url(#faint)" opacity="0.02"/>
<ellipse cx="378.5" cy="65" rx="35.34" ry="24.8" fill="url(#st)" opacity=".16"/>
<circle cx="404.46" cy="49.95" r="1.57" fill="url(#faint)" opacity="0.21"/>
<circle cx="370.33" cy="77.86" r="1.44" fill="url(#faint)" opacity="0.29"/>
<circle cx="352.81" cy="63.94" r="1.04" fill="url(#faint)" opacity="0.47"/>
<circle cx="361" cy="59.57" r="1.51" fill="url(#faint)" opacity="0.15"/>
<circle cx="373.42" cy="77.47" r="1.39" fill="url(#faint)" opacity="0.15"/>
<circle cx="351.99" cy="47.5" r="1.53" fill="url(#faint)" opacity="0.23"/>
<circle cx="392.6" cy="80.94" r="1.01" fill="url(#faint)" opacity="0.23"/>
<circle cx="404.59" cy="69.68" r="0.94" fill="url(#faint)" opacity="0.39"/>
<circle cx="368.04" cy="56.03" r="0.7" fill="url(#faint)" opacity="0.41"/>
<circle cx="402.24" cy="70.36" r="1.55" fill="url(#faint)" opacity="0.14"/>
<circle cx="363.33" cy="64.01" r="1.56" fill="url(#faint)" opacity="0.48"/>
<circle cx="372.03" cy="55.04" r="1.09" fill="url(#faint)" opacity="0.31"/>
<circle cx="402.9" cy="52.32" r="1.42" fill="url(#faint)" opacity="0.4"/>
<circle cx="396.9" cy="75.91" r="1.25" fill="url(#faint)" opacity="0.25"/>
<circle cx="368.21" cy="59.47" r="1.4" fill="url(#faint)" opacity="0.16"/>
<circle cx="361.25" cy="75.12" r="0.92" fill="url(#faint)" opacity="0.16"/>
<circle cx="351.93" cy="67.1" r="0.99" fill="url(#faint)" opacity="0.49"/>
<circle cx="400.36" cy="84.51" r="0.94" fill="url(#faint)" opacity="0.17"/>
<circle cx="355.5" cy="64.94" r="1.34" fill="url(#faint)" opacity="0.3"/>
<circle cx="363.35" cy="61.67" r="1.26" fill="url(#faint)" opacity="0.38"/>
<circle cx="392.63" cy="78.88" r="1.3" fill="url(#faint)" opacity="0.18"/>
<circle cx="397.93" cy="56.75" r="1.21" fill="url(#faint)" opacity="0.27"/>
<circle cx="392.07" cy="52.97" r="0.92" fill="url(#faint)" opacity="0.22"/>
<circle cx="358.74" cy="80.37" r="1.22" fill="url(#faint)" opacity="0.25"/>
<circle cx="372.58" cy="84.7" r="1.16" fill="url(#faint)" opacity="0.22"/>
<circle cx="396.08" cy="71.13" r="1.59" fill="url(#faint)" opacity="0.17"/>
<circle cx="377.06" cy="77.76" r="1.46" fill="url(#faint)" opacity="0.46"/>
<circle cx="352.3" cy="56.75" r="0.81" fill="url(#faint)" opacity="0.2"/>
<circle cx="405.46" cy="68.33" r="1.54" fill="url(#faint)" opacity="0.27"/>
<circle cx="399.37" cy="62.96" r="0.93" fill="url(#faint)" opacity="0.41"/>
<circle cx="403.91" cy="49.23" r="1.24" fill="url(#faint)" opacity="0.36"/>
<circle cx="362.41" cy="59.75" r="0.83" fill="url(#faint)" opacity="0.21"/>
<circle cx="364.53" cy="68.98" r="1.29" fill="url(#faint)" opacity="0.21"/>
<circle cx="350.65" cy="58.09" r="1.31" fill="url(#faint)" opacity="0.2"/>
<circle cx="367.8" cy="53.14" r="1.42" fill="url(#faint)" opacity="0.33"/>
<circle cx="353.61" cy="49.06" r="1.06" fill="url(#faint)" opacity="0.33"/>
<circle cx="386.43" cy="48.65" r="0.85" fill="url(#faint)" opacity="0.39"/>
<circle cx="373.36" cy="56.33" r="0.98" fill="url(#faint)" opacity="0.48"/>
<circle cx="367.8" cy="67.66" r="1.02" fill="url(#faint)" opacity="0.28"/>
<circle cx="399.26" cy="84.86" r="1.03" fill="url(#faint)" opacity="0.21"/>
<circle cx="391.5" cy="53.15" r="0.71" fill="url(#faint)" opacity="0.46"/>
<circle cx="374.15" cy="77.81" r="1.07" fill="url(#faint)" opacity="0.45"/>
<circle cx="376.27" cy="51.5" r="0.71" fill="url(#faint)" opacity="0.33"/>
<circle cx="386.52" cy="81.39" r="0.78" fill="url(#faint)" opacity="0.36"/>
<circle cx="371.14" cy="65.18" r="0.83" fill="url(#faint)" opacity="0.24"/>
<circle cx="379.71" cy="82.02" r="0.8" fill="url(#faint)" opacity="0.31"/>
<circle cx="395.87" cy="83.68" r="0.88" fill="url(#faint)" opacity="0.18"/>
<circle cx="403.76" cy="84.02" r="1.13" fill="url(#faint)" opacity="0.15"/>
<circle cx="402.79" cy="60.52" r="1.51" fill="url(#faint)" opacity="0.36"/>
<circle cx="397" cy="51.41" r="1.41" fill="url(#faint)" opacity="0.21"/>
<circle cx="373.06" cy="78.85" r="1.45" fill="url(#faint)" opacity="0.2"/>
<circle cx="362.43" cy="60.99" r="1.17" fill="url(#faint)" opacity="0.27"/>
<circle cx="357.01" cy="54.88" r="1.35" fill="url(#faint)" opacity="0.46"/>
<circle cx="352.34" cy="67.49" r="1.38" fill="url(#faint)" opacity="0.15"/>
<circle cx="397.78" cy="49.71" r="1.24" fill="url(#faint)" opacity="0.33"/>
<circle cx="385.74" cy="57.25" r="1.08" fill="url(#faint)" opacity="0.34"/>
<circle cx="374.27" cy="71.35" r="1.1" fill="url(#faint)" opacity="0.29"/>
<circle cx="351.33" cy="69.76" r="1.14" fill="url(#faint)" opacity="0.22"/>
<circle cx="393.52" cy="76.2" r="1.11" fill="url(#faint)" opacity="0.2"/>
<circle cx="376.97" cy="49.28" r="0.82" fill="url(#faint)" opacity="0.29"/>
<circle cx="355.23" cy="62.68" r="1.16" fill="url(#faint)" opacity="0.15"/>
<circle cx="386.28" cy="48.29" r="1.36" fill="url(#faint)" opacity="0.41"/>
<circle cx="379.15" cy="47.17" r="1.15" fill="url(#faint)" opacity="0.27"/>
<circle cx="404.2" cy="50.45" r="1.47" fill="url(#faint)" opacity="0.49"/>
<circle cx="391.73" cy="77.6" r="0.87" fill="url(#faint)" opacity="0.49"/>
<circle cx="378.04" cy="83.27" r="1.52" fill="url(#faint)" opacity="0.19"/>
<circle cx="394.94" cy="82.22" r="0.76" fill="url(#faint)" opacity="0.26"/>
<circle cx="393.1" cy="51.35" r="1.51" fill="url(#faint)" opacity="0.23"/>
<circle cx="396.49" cy="50.74" r="1.15" fill="url(#faint)" opacity="0.47"/>
<circle cx="361.87" cy="55.51" r="1.16" fill="url(#faint)" opacity="0.25"/>
<circle cx="352.1" cy="52.28" r="0.85" fill="url(#faint)" opacity="0.47"/>
<circle cx="388.74" cy="80.82" r="0.85" fill="url(#faint)" opacity="0.42"/>
<circle cx="356.56" cy="66.23" r="1.27" fill="url(#faint)" opacity="0.26"/>
<circle cx="399.76" cy="67.21" r="1.22" fill="url(#faint)" opacity="0.45"/>
<circle cx="355.96" cy="84.72" r="1.27" fill="url(#faint)" opacity="0.28"/>
<circle cx="395.47" cy="55.59" r="1.59" fill="url(#faint)" opacity="0.34"/>
<circle cx="370.53" cy="75.59" r="1.1" fill="url(#faint)" opacity="0.2"/>
<circle cx="392.38" cy="46.93" r="1.44" fill="url(#faint)" opacity="0.23"/>
<circle cx="386.44" cy="84.36" r="1.23" fill="url(#faint)" opacity="0.37"/>
<circle cx="367.82" cy="45.07" r="0.73" fill="url(#faint)" opacity="0.19"/>
<circle cx="385.11" cy="62.29" r="1.16" fill="url(#faint)" opacity="0.46"/>
<circle cx="357.53" cy="54.09" r="1.29" fill="url(#faint)" opacity="0.14"/>
<circle cx="350.15" cy="59.2" r="0.8" fill="url(#faint)" opacity="0.26"/>
<circle cx="362.78" cy="68.34" r="1.23" fill="url(#faint)" opacity="0.21"/>
<circle cx="385.56" cy="64" r="0.82" fill="url(#faint)" opacity="0.47"/>
<circle cx="363.88" cy="50.97" r="0.79" fill="url(#faint)" opacity="0.36"/>
<circle cx="399.66" cy="76.29" r="1.06" fill="url(#faint)" opacity="0.23"/>
<circle cx="350.66" cy="70.8" r="1.21" fill="url(#faint)" opacity="0.26"/>
<circle cx="386.8" cy="62.75" r="1.54" fill="url(#faint)" opacity="0.4"/>
<circle cx="364.16" cy="81.14" r="0.74" fill="url(#faint)" opacity="0.33"/>
<circle cx="373.14" cy="54.51" r="0.75" fill="url(#faint)" opacity="0.42"/>
<circle cx="350.7" cy="67.04" r="1.55" fill="url(#faint)" opacity="0.19"/>
<circle cx="361.37" cy="69.32" r="1.16" fill="url(#faint)" opacity="0.37"/>
<circle cx="396.36" cy="51.99" r="0.98" fill="url(#faint)" opacity="0.24"/>
<circle cx="352.76" cy="80.57" r="1.4" fill="url(#faint)" opacity="0.39"/>
<circle cx="350.36" cy="78.78" r="1.37" fill="url(#faint)" opacity="0.3"/>
<circle cx="392.28" cy="63.1" r="0.9" fill="url(#faint)" opacity="0.17"/>
<circle cx="363.24" cy="46.55" r="1" fill="url(#faint)" opacity="0.4"/>
<circle cx="389.62" cy="78.81" r="1.34" fill="url(#faint)" opacity="0.23"/>
<circle cx="381.57" cy="62.44" r="1.41" fill="url(#faint)" opacity="0.32"/>
<circle cx="365.12" cy="70.68" r="1.57" fill="url(#faint)" opacity="0.21"/>
<circle cx="400.16" cy="45.61" r="0.93" fill="url(#faint)" opacity="0.22"/>
<circle cx="392.4" cy="82.79" r="1.37" fill="url(#faint)" opacity="0.25"/>
<circle cx="400.17" cy="58.14" r="0.92" fill="url(#faint)" opacity="0.46"/>
<circle cx="385.95" cy="72.71" r="1.3" fill="url(#faint)" opacity="0.49"/>
<circle cx="376.76" cy="78.59" r="1.33" fill="url(#faint)" opacity="0.44"/>
<circle cx="374.92" cy="73.98" r="1.21" fill="url(#faint)" opacity="0.25"/>
<circle cx="362.08" cy="69.9" r="0.77" fill="url(#faint)" opacity="0.46"/>
<circle cx="358.24" cy="46.08" r="0.8" fill="url(#faint)" opacity="0.47"/>
<circle cx="369.66" cy="50.67" r="0.73" fill="url(#faint)" opacity="0.15"/>
<ellipse cx="344.2" cy="77" rx="6" ry="12.5" fill="url(#halo)" opacity="0.85"/>
<ellipse cx="344.5" cy="77" rx="11" ry="14" fill="url(#halo)" opacity="0.3"/>
<ellipse cx="343.1" cy="69.7" rx="3" ry="2.8" fill="url(#cyan)"/>
<ellipse cx="346.7" cy="70.7" rx="2.6" ry="2.5" fill="url(#cyan)"/>
<ellipse cx="342.5" cy="72.8" rx="2.4" ry="2.2" fill="url(#warm)"/>
<ellipse cx="346.5" cy="79.6" rx="2.3" ry="2.3" fill="url(#cyan)"/>
<ellipse cx="345.1" cy="83" rx="3.3" ry="3" fill="url(#warm)"/>
<ellipse cx="345.1" cy="82.8" rx="1.6" ry="1.6" fill="url(#hot)"/>
<ellipse cx="345" cy="87.2" rx="2.5" ry="2.4" fill="url(#cyan)"/>
<ellipse cx="342.6" cy="84" rx="2" ry="2" fill="url(#cool)"/>
<ellipse cx="344.5" cy="76.2" rx="3.3" ry="5" fill="url(#hot)" transform="rotate(8 344.5 76.2)"/>
<ellipse cx="343.8" cy="65" rx="1.4" ry="1.8" fill="url(#faint)"/>
<ellipse cx="388" cy="55.2" rx="2.6" ry="2.2" fill="url(#cyan)"/>
<ellipse cx="393.8" cy="52.2" rx="1.8" ry="1.8" fill="url(#cool)"/>
</g>
<text x="346.9" y="22.2" font-size="11" fill="#FFF200" text-anchor="middle"># 28</text>
<text x="288.4" y="9.3" font-size="3.4" fill="#000" stroke="#000" stroke-width=".16" text-anchor="end">-1.5</text>
<text x="288.4" y="24.35" font-size="3.4" fill="#000" stroke="#000" stroke-width=".16" text-anchor="end">-1</text>
<text x="288.4" y="39.4" font-size="3.4" fill="#000" stroke="#000" stroke-width=".16" text-anchor="end">-0.5</text>
<text x="288.4" y="54.45" font-size="3.4" fill="#000" stroke="#000" stroke-width=".16" text-anchor="end">0</text>
<text x="288.4" y="69.5" font-size="3.4" fill="#000" stroke="#000" stroke-width=".16" text-anchor="end">0.5</text>
<text x="288.4" y="84.55" font-size="3.4" fill="#000" stroke="#000" stroke-width=".16" text-anchor="end">1</text>
<text x="288.4" y="99.6" font-size="3.4" fill="#000" stroke="#000" stroke-width=".16" text-anchor="end">1.5</text>
<text x="290.3" y="103.8" font-size="3.4" fill="#000" stroke="#000" stroke-width=".16" text-anchor="middle">0</text>
<text x="313.44" y="103.8" font-size="3.4" fill="#000" stroke="#000" stroke-width=".16" text-anchor="middle">1</text>
<text x="336.58" y="103.8" font-size="3.4" fill="#000" stroke="#000" stroke-width=".16" text-anchor="middle">2</text>
<text x="359.72" y="103.8" font-size="3.4" fill="#000" stroke="#000" stroke-width=".16" text-anchor="middle">3</text>
<text x="382.86" y="103.8" font-size="3.4" fill="#000" stroke="#000" stroke-width=".16" text-anchor="middle">4</text>
<text x="406" y="103.8" font-size="3.4" fill="#000" stroke="#000" stroke-width=".16" text-anchor="middle">5</text>
<text x="348.35" y="110.3" font-size="5.7" fill="#0a0a0a" stroke="#0a0a0a" stroke-width=".2" text-anchor="middle">Range (m)</text>
<text transform="translate(280.9 53.35) rotate(-90)" font-size="5.7" fill="#0a0a0a" stroke="#0a0a0a" stroke-width=".2" text-anchor="middle">Speed (m/s)</text>
<g clip-path="url(#c3)">
<rect x="428.8" y="8" width="115.8" height="90.7" fill="#3E26A8"/>
<ellipse cx="488.6" cy="65" rx="3.45" ry="60" fill="url(#st)" opacity="0.17"/>
<ellipse cx="530" cy="51.6" rx="90" ry="1.95" fill="url(#st)" opacity="0.21"/>
<ellipse cx="490" cy="63" rx="90" ry="10.4" fill="url(#st)" opacity="0.09"/>
<ellipse cx="485" cy="66.8" rx="0.9" ry="2.0" fill="url(#faint)" opacity="0.21"/>
<ellipse cx="482.7" cy="66.8" rx="0.9" ry="2.0" fill="url(#faint)" opacity="0.2"/>
<ellipse cx="480.4" cy="66.8" rx="0.9" ry="2.0" fill="url(#faint)" opacity="0.19"/>
<ellipse cx="478.1" cy="66.8" rx="0.9" ry="2.0" fill="url(#faint)" opacity="0.18"/>
<ellipse cx="475.8" cy="66.8" rx="0.9" ry="2.0" fill="url(#faint)" opacity="0.17"/>
<ellipse cx="473.5" cy="66.8" rx="0.9" ry="2.0" fill="url(#faint)" opacity="0.16"/>
<ellipse cx="471.2" cy="66.8" rx="0.9" ry="2.0" fill="url(#faint)" opacity="0.15"/>
<ellipse cx="468.9" cy="66.8" rx="0.9" ry="2.0" fill="url(#faint)" opacity="0.15"/>
<ellipse cx="466.6" cy="66.8" rx="0.9" ry="2.0" fill="url(#faint)" opacity="0.14"/>
<ellipse cx="464.3" cy="66.8" rx="0.9" ry="2.0" fill="url(#faint)" opacity="0.13"/>
<ellipse cx="462" cy="66.8" rx="0.9" ry="2.0" fill="url(#faint)" opacity="0.13"/>
<ellipse cx="459.7" cy="66.8" rx="0.9" ry="2.0" fill="url(#faint)" opacity="0.12"/>
<ellipse cx="457.4" cy="66.8" rx="0.9" ry="2.0" fill="url(#faint)" opacity="0.11"/>
<ellipse cx="455.1" cy="66.8" rx="0.9" ry="2.0" fill="url(#faint)" opacity="0.11"/>
<ellipse cx="452.8" cy="66.8" rx="0.9" ry="2.0" fill="url(#faint)" opacity="0.1"/>
<ellipse cx="450.5" cy="66.8" rx="0.9" ry="2.0" fill="url(#faint)" opacity="0.1"/>
<ellipse cx="448.2" cy="66.8" rx="0.9" ry="2.0" fill="url(#faint)" opacity="0.09"/>
<ellipse cx="445.9" cy="66.8" rx="0.9" ry="2.0" fill="url(#faint)" opacity="0.09"/>
<ellipse cx="443.6" cy="66.8" rx="0.9" ry="2.0" fill="url(#faint)" opacity="0.08"/>
<ellipse cx="441.3" cy="66.8" rx="0.9" ry="2.0" fill="url(#faint)" opacity="0.08"/>
<ellipse cx="485" cy="57" rx="0.9" ry="2.0" fill="url(#faint)" opacity="0.21"/>
<ellipse cx="482.7" cy="57" rx="0.9" ry="2.0" fill="url(#faint)" opacity="0.2"/>
<ellipse cx="480.4" cy="57" rx="0.9" ry="2.0" fill="url(#faint)" opacity="0.19"/>
<ellipse cx="478.1" cy="57" rx="0.9" ry="2.0" fill="url(#faint)" opacity="0.18"/>
<ellipse cx="475.8" cy="57" rx="0.9" ry="2.0" fill="url(#faint)" opacity="0.17"/>
<ellipse cx="473.5" cy="57" rx="0.9" ry="2.0" fill="url(#faint)" opacity="0.16"/>
<ellipse cx="471.2" cy="57" rx="0.9" ry="2.0" fill="url(#faint)" opacity="0.15"/>
<ellipse cx="468.9" cy="57" rx="0.9" ry="2.0" fill="url(#faint)" opacity="0.15"/>
<ellipse cx="466.6" cy="57" rx="0.9" ry="2.0" fill="url(#faint)" opacity="0.14"/>
<ellipse cx="464.3" cy="57" rx="0.9" ry="2.0" fill="url(#faint)" opacity="0.13"/>
<ellipse cx="462" cy="57" rx="0.9" ry="2.0" fill="url(#faint)" opacity="0.13"/>
<ellipse cx="459.7" cy="57" rx="0.9" ry="2.0" fill="url(#faint)" opacity="0.12"/>
<ellipse cx="457.4" cy="57" rx="0.9" ry="2.0" fill="url(#faint)" opacity="0.11"/>
<ellipse cx="455.1" cy="57" rx="0.9" ry="2.0" fill="url(#faint)" opacity="0.11"/>
<ellipse cx="452.8" cy="57" rx="0.9" ry="2.0" fill="url(#faint)" opacity="0.1"/>
<ellipse cx="450.5" cy="57" rx="0.9" ry="2.0" fill="url(#faint)" opacity="0.1"/>
<ellipse cx="448.2" cy="57" rx="0.9" ry="2.0" fill="url(#faint)" opacity="0.09"/>
<ellipse cx="445.9" cy="57" rx="0.9" ry="2.0" fill="url(#faint)" opacity="0.09"/>
<ellipse cx="443.6" cy="57" rx="0.9" ry="2.0" fill="url(#faint)" opacity="0.08"/>
<ellipse cx="441.3" cy="57" rx="0.9" ry="2.0" fill="url(#faint)" opacity="0.08"/>
<ellipse cx="488.6" cy="36" rx="2.2" ry="0.9" fill="url(#faint)" opacity="0.12"/>
<ellipse cx="488.6" cy="33.4" rx="2.2" ry="0.9" fill="url(#faint)" opacity="0.1"/>
<ellipse cx="488.6" cy="30.8" rx="2.2" ry="0.9" fill="url(#faint)" opacity="0.09"/>
<ellipse cx="488.6" cy="28.2" rx="2.2" ry="0.9" fill="url(#faint)" opacity="0.08"/>
<ellipse cx="488.6" cy="25.6" rx="2.2" ry="0.9" fill="url(#faint)" opacity="0.08"/>
<ellipse cx="488.6" cy="23" rx="2.2" ry="0.9" fill="url(#faint)" opacity="0.07"/>
<ellipse cx="488.6" cy="20.4" rx="2.2" ry="0.9" fill="url(#faint)" opacity="0.06"/>
<ellipse cx="488.6" cy="17.8" rx="2.2" ry="0.9" fill="url(#faint)" opacity="0.06"/>
<ellipse cx="488.6" cy="15.2" rx="2.2" ry="0.9" fill="url(#faint)" opacity="0.05"/>
<ellipse cx="488.6" cy="12.6" rx="2.2" ry="0.9" fill="url(#faint)" opacity="0.04"/>
<ellipse cx="520" cy="65" rx="31" ry="28.52" fill="url(#st)" opacity=".16"/>
<circle cx="529.63" cy="71.16" r="1.33" fill="url(#faint)" opacity="0.44"/>
<circle cx="498.29" cy="69.16" r="1.03" fill="url(#faint)" opacity="0.48"/>
<circle cx="535.98" cy="83" r="0.76" fill="url(#faint)" opacity="0.5"/>
<circle cx="540.72" cy="85.44" r="0.8" fill="url(#faint)" opacity="0.23"/>
<circle cx="500.6" cy="43.58" r="1.46" fill="url(#faint)" opacity="0.47"/>
<circle cx="526.71" cy="79.95" r="1.27" fill="url(#faint)" opacity="0.26"/>
<circle cx="499.99" cy="46.5" r="1.38" fill="url(#faint)" opacity="0.23"/>
<circle cx="510.96" cy="61.49" r="0.72" fill="url(#faint)" opacity="0.25"/>
<circle cx="509.13" cy="74.93" r="1.03" fill="url(#faint)" opacity="0.28"/>
<circle cx="543.2" cy="65.17" r="1.47" fill="url(#faint)" opacity="0.4"/>
<circle cx="496.55" cy="60.99" r="1.09" fill="url(#faint)" opacity="0.46"/>
<circle cx="512.34" cy="74.41" r="1.18" fill="url(#faint)" opacity="0.24"/>
<circle cx="538.11" cy="46.18" r="1.44" fill="url(#faint)" opacity="0.22"/>
<circle cx="495.06" cy="51.29" r="1.39" fill="url(#faint)" opacity="0.54"/>
<circle cx="495.22" cy="64.58" r="1.14" fill="url(#faint)" opacity="0.47"/>
<circle cx="504.23" cy="64.75" r="1.01" fill="url(#faint)" opacity="0.48"/>
<circle cx="508.03" cy="85.42" r="0.96" fill="url(#faint)" opacity="0.24"/>
<circle cx="529.97" cy="64.92" r="0.8" fill="url(#faint)" opacity="0.4"/>
<circle cx="499.04" cy="78.24" r="1.33" fill="url(#faint)" opacity="0.46"/>
<circle cx="526.4" cy="58.36" r="1.06" fill="url(#faint)" opacity="0.31"/>
<circle cx="539.52" cy="45.96" r="1.5" fill="url(#faint)" opacity="0.16"/>
<circle cx="505.31" cy="54.11" r="1.51" fill="url(#faint)" opacity="0.35"/>
<circle cx="513.97" cy="82.66" r="0.91" fill="url(#faint)" opacity="0.33"/>
<circle cx="521.58" cy="76.71" r="1.38" fill="url(#faint)" opacity="0.41"/>
<circle cx="512.42" cy="57.03" r="0.84" fill="url(#faint)" opacity="0.49"/>
<circle cx="528.11" cy="76.13" r="0.85" fill="url(#faint)" opacity="0.33"/>
<circle cx="533.67" cy="68.64" r="0.81" fill="url(#faint)" opacity="0.33"/>
<circle cx="539.26" cy="52.95" r="0.87" fill="url(#faint)" opacity="0.27"/>
<circle cx="530.16" cy="80.81" r="0.84" fill="url(#faint)" opacity="0.21"/>
<circle cx="507.38" cy="57.02" r="1.17" fill="url(#faint)" opacity="0.21"/>
<circle cx="511.4" cy="50.71" r="1.58" fill="url(#faint)" opacity="0.44"/>
<circle cx="500.09" cy="86.27" r="0.79" fill="url(#faint)" opacity="0.3"/>
<circle cx="544.19" cy="78.56" r="1.36" fill="url(#faint)" opacity="0.32"/>
<circle cx="504.81" cy="71.35" r="0.8" fill="url(#faint)" opacity="0.23"/>
<circle cx="514.42" cy="43.56" r="1.06" fill="url(#faint)" opacity="0.47"/>
<circle cx="529.67" cy="65.02" r="1.27" fill="url(#faint)" opacity="0.34"/>
<circle cx="502.09" cy="69.77" r="1.06" fill="url(#faint)" opacity="0.45"/>
<circle cx="540.4" cy="61.78" r="1.22" fill="url(#faint)" opacity="0.45"/>
<circle cx="516.06" cy="52.51" r="1.35" fill="url(#faint)" opacity="0.5"/>
<circle cx="533.7" cy="74.2" r="1.47" fill="url(#faint)" opacity="0.42"/>
<circle cx="527.08" cy="62.88" r="0.98" fill="url(#faint)" opacity="0.4"/>
<circle cx="499.89" cy="61.3" r="1.4" fill="url(#faint)" opacity="0.44"/>
<circle cx="526.48" cy="53.5" r="1.08" fill="url(#faint)" opacity="0.33"/>
<circle cx="526.08" cy="60.83" r="1.31" fill="url(#faint)" opacity="0.52"/>
<circle cx="504.15" cy="72.11" r="1.4" fill="url(#faint)" opacity="0.31"/>
<circle cx="519.49" cy="86.83" r="0.73" fill="url(#faint)" opacity="0.37"/>
<circle cx="503.04" cy="77.96" r="1.55" fill="url(#faint)" opacity="0.36"/>
<circle cx="500.05" cy="68.43" r="1.19" fill="url(#faint)" opacity="0.44"/>
<circle cx="520.61" cy="71.41" r="1.45" fill="url(#faint)" opacity="0.36"/>
<circle cx="515.52" cy="85.61" r="0.89" fill="url(#faint)" opacity="0.42"/>
<circle cx="514.62" cy="77.08" r="0.81" fill="url(#faint)" opacity="0.54"/>
<circle cx="512.77" cy="44.6" r="0.95" fill="url(#faint)" opacity="0.31"/>
<circle cx="495.67" cy="61.25" r="1.08" fill="url(#faint)" opacity="0.43"/>
<circle cx="512.61" cy="54.2" r="0.9" fill="url(#faint)" opacity="0.45"/>
<circle cx="542" cy="66.25" r="0.9" fill="url(#faint)" opacity="0.47"/>
<circle cx="514.6" cy="51.75" r="0.82" fill="url(#faint)" opacity="0.46"/>
<circle cx="535.48" cy="71.18" r="1.12" fill="url(#faint)" opacity="0.37"/>
<circle cx="506.3" cy="86.34" r="1.02" fill="url(#faint)" opacity="0.41"/>
<circle cx="535.94" cy="79.54" r="1.12" fill="url(#faint)" opacity="0.27"/>
<circle cx="522.41" cy="47.76" r="1.45" fill="url(#faint)" opacity="0.29"/>
<circle cx="537.53" cy="54.3" r="1.04" fill="url(#faint)" opacity="0.25"/>
<circle cx="516.31" cy="50.55" r="0.7" fill="url(#faint)" opacity="0.44"/>
<circle cx="509.06" cy="53.27" r="0.97" fill="url(#faint)" opacity="0.34"/>
<circle cx="516.42" cy="71.32" r="1.29" fill="url(#faint)" opacity="0.29"/>
<circle cx="541.44" cy="81.3" r="0.75" fill="url(#faint)" opacity="0.48"/>
<circle cx="540.29" cy="78.07" r="0.83" fill="url(#faint)" opacity="0.48"/>
<circle cx="526.66" cy="42.69" r="0.71" fill="url(#faint)" opacity="0.53"/>
<circle cx="527.8" cy="53.5" r="0.79" fill="url(#faint)" opacity="0.21"/>
<circle cx="506.68" cy="77.71" r="1.01" fill="url(#faint)" opacity="0.21"/>
<circle cx="540.2" cy="78.42" r="0.85" fill="url(#faint)" opacity="0.51"/>
<circle cx="525.42" cy="77.94" r="1.3" fill="url(#faint)" opacity="0.51"/>
<circle cx="534.4" cy="80.58" r="0.88" fill="url(#faint)" opacity="0.43"/>
<circle cx="521.54" cy="76.13" r="1.09" fill="url(#faint)" opacity="0.5"/>
<circle cx="522.75" cy="54.17" r="0.91" fill="url(#faint)" opacity="0.21"/>
<circle cx="519.65" cy="44.69" r="1.12" fill="url(#faint)" opacity="0.21"/>
<circle cx="519.57" cy="64.92" r="1.19" fill="url(#faint)" opacity="0.5"/>
<circle cx="495.33" cy="80.68" r="1.12" fill="url(#faint)" opacity="0.38"/>
<circle cx="528.27" cy="80.67" r="1.04" fill="url(#faint)" opacity="0.32"/>
<circle cx="543.03" cy="45.47" r="1.27" fill="url(#faint)" opacity="0.4"/>
<circle cx="496.43" cy="70.05" r="1.31" fill="url(#faint)" opacity="0.52"/>
<circle cx="511.52" cy="87.16" r="1.16" fill="url(#faint)" opacity="0.34"/>
<circle cx="539.88" cy="43.56" r="1.35" fill="url(#faint)" opacity="0.4"/>
<circle cx="511.93" cy="81.64" r="1.03" fill="url(#faint)" opacity="0.34"/>
<circle cx="521.28" cy="77.45" r="0.89" fill="url(#faint)" opacity="0.32"/>
<circle cx="516.12" cy="67.49" r="1.44" fill="url(#faint)" opacity="0.27"/>
<circle cx="536.39" cy="60.57" r="1.15" fill="url(#faint)" opacity="0.26"/>
<circle cx="520.32" cy="86.85" r="1.29" fill="url(#faint)" opacity="0.47"/>
<circle cx="511.54" cy="56.59" r="0.97" fill="url(#faint)" opacity="0.38"/>
<circle cx="526.74" cy="78.07" r="0.74" fill="url(#faint)" opacity="0.44"/>
<circle cx="539.28" cy="67.09" r="0.74" fill="url(#faint)" opacity="0.27"/>
<circle cx="495.31" cy="50.74" r="1.53" fill="url(#faint)" opacity="0.39"/>
<circle cx="527.9" cy="78.3" r="1.52" fill="url(#faint)" opacity="0.39"/>
<circle cx="525.83" cy="70.83" r="1.33" fill="url(#faint)" opacity="0.39"/>
<circle cx="529.05" cy="51.78" r="1.3" fill="url(#faint)" opacity="0.33"/>
<circle cx="533.13" cy="46.66" r="0.86" fill="url(#faint)" opacity="0.16"/>
<circle cx="533.73" cy="84.05" r="1.29" fill="url(#faint)" opacity="0.3"/>
<circle cx="536.13" cy="78.18" r="1.21" fill="url(#faint)" opacity="0.25"/>
<circle cx="510.1" cy="61.4" r="0.99" fill="url(#faint)" opacity="0.32"/>
<circle cx="527.09" cy="84.96" r="0.75" fill="url(#faint)" opacity="0.38"/>
<circle cx="496.97" cy="47.47" r="1.43" fill="url(#faint)" opacity="0.38"/>
<circle cx="540.93" cy="62.54" r="0.71" fill="url(#faint)" opacity="0.3"/>
<circle cx="524.6" cy="85.14" r="1.58" fill="url(#faint)" opacity="0.34"/>
<circle cx="515.62" cy="46.69" r="1.28" fill="url(#faint)" opacity="0.23"/>
<circle cx="502.59" cy="42.71" r="0.7" fill="url(#faint)" opacity="0.42"/>
<circle cx="501.08" cy="86.45" r="0.78" fill="url(#faint)" opacity="0.5"/>
<circle cx="501.45" cy="42.82" r="1.35" fill="url(#faint)" opacity="0.25"/>
<circle cx="531.68" cy="50.62" r="0.75" fill="url(#faint)" opacity="0.46"/>
<circle cx="530.68" cy="81.35" r="1.36" fill="url(#faint)" opacity="0.18"/>
<circle cx="526.43" cy="74.62" r="1.11" fill="url(#faint)" opacity="0.52"/>
<circle cx="507.7" cy="86.36" r="1.35" fill="url(#faint)" opacity="0.15"/>
<circle cx="495.74" cy="71.93" r="1.44" fill="url(#faint)" opacity="0.18"/>
<circle cx="510.55" cy="75.55" r="0.85" fill="url(#faint)" opacity="0.49"/>
<circle cx="519.32" cy="44.75" r="1.03" fill="url(#faint)" opacity="0.38"/>
<circle cx="516.94" cy="73.14" r="0.83" fill="url(#faint)" opacity="0.47"/>
<circle cx="513.16" cy="71.66" r="1.27" fill="url(#faint)" opacity="0.32"/>
<circle cx="514.29" cy="78.17" r="1.55" fill="url(#faint)" opacity="0.46"/>
<circle cx="523.34" cy="55.45" r="0.75" fill="url(#faint)" opacity="0.54"/>
<circle cx="530.16" cy="80.06" r="1" fill="url(#faint)" opacity="0.39"/>
<circle cx="543.87" cy="80.24" r="1.24" fill="url(#faint)" opacity="0.27"/>
<circle cx="516.43" cy="82.85" r="1.04" fill="url(#faint)" opacity="0.42"/>
<circle cx="525.09" cy="83.22" r="1.43" fill="url(#faint)" opacity="0.26"/>
<circle cx="495.08" cy="54.1" r="1.08" fill="url(#faint)" opacity="0.38"/>
<circle cx="535.8" cy="82.82" r="0.74" fill="url(#faint)" opacity="0.48"/>
<circle cx="535.59" cy="81.89" r="1.21" fill="url(#faint)" opacity="0.26"/>
<circle cx="537.56" cy="79.12" r="1.32" fill="url(#faint)" opacity="0.52"/>
<circle cx="512.34" cy="45.91" r="1.2" fill="url(#faint)" opacity="0.47"/>
<circle cx="505.02" cy="76.51" r="1.54" fill="url(#faint)" opacity="0.24"/>
<circle cx="525.34" cy="73.17" r="1.12" fill="url(#faint)" opacity="0.23"/>
<circle cx="507.74" cy="76.55" r="1.41" fill="url(#faint)" opacity="0.33"/>
<circle cx="499.39" cy="79.1" r="1.39" fill="url(#faint)" opacity="0.24"/>
<circle cx="523.98" cy="83.26" r="1.5" fill="url(#faint)" opacity="0.36"/>
<circle cx="518.83" cy="69.11" r="0.87" fill="url(#faint)" opacity="0.23"/>
<rect x="429" y="53.4" width="116" height="1" fill="#2B1A8C" opacity="0.55"/>
<ellipse cx="488.8" cy="63" rx="5.2" ry="15" fill="url(#halo)" opacity="0.85"/>
<ellipse cx="491.5" cy="78.5" rx="3.2" ry="6" fill="url(#halo)" opacity="0.6" transform="rotate(-30 491.5 78.5)"/>
<ellipse cx="488" cy="47" rx="1.8" ry="2.4" fill="url(#cool)"/>
<ellipse cx="489" cy="57" rx="4.2" ry="3.8" fill="url(#warm)"/>
<ellipse cx="488.9" cy="61.8" rx="2.6" ry="2.2" fill="url(#hot)"/>
<ellipse cx="490" cy="70.2" rx="2.9" ry="2.5" fill="url(#cyan)"/>
<ellipse cx="488.3" cy="66.8" rx="3.1" ry="2.9" fill="url(#hot)"/>
<ellipse cx="489" cy="74.5" rx="2.2" ry="2.3" fill="url(#cool)"/>
<ellipse cx="491" cy="77.5" rx="2" ry="2.1" fill="url(#cool)"/>
<ellipse cx="493" cy="81" rx="1.9" ry="1.9" fill="url(#cool)"/>
<ellipse cx="488.4" cy="40" rx="1.4" ry="1.8" fill="url(#faint)"/>
<ellipse cx="529.7" cy="49.8" rx="1.8" ry="1.6" fill="url(#faint)"/>
</g>
<text x="487.6" y="22.2" font-size="11" fill="#FFF200" text-anchor="middle"># 42</text>
<text x="426.7" y="9.3" font-size="3.4" fill="#000" stroke="#000" stroke-width=".16" text-anchor="end">-1.5</text>
<text x="426.7" y="24.35" font-size="3.4" fill="#000" stroke="#000" stroke-width=".16" text-anchor="end">-1</text>
<text x="426.7" y="39.4" font-size="3.4" fill="#000" stroke="#000" stroke-width=".16" text-anchor="end">-0.5</text>
<text x="426.7" y="54.45" font-size="3.4" fill="#000" stroke="#000" stroke-width=".16" text-anchor="end">0</text>
<text x="426.7" y="69.5" font-size="3.4" fill="#000" stroke="#000" stroke-width=".16" text-anchor="end">0.5</text>
<text x="426.7" y="84.55" font-size="3.4" fill="#000" stroke="#000" stroke-width=".16" text-anchor="end">1</text>
<text x="426.7" y="99.6" font-size="3.4" fill="#000" stroke="#000" stroke-width=".16" text-anchor="end">1.5</text>
<text x="428.6" y="103.8" font-size="3.4" fill="#000" stroke="#000" stroke-width=".16" text-anchor="middle">0</text>
<text x="451.76" y="103.8" font-size="3.4" fill="#000" stroke="#000" stroke-width=".16" text-anchor="middle">1</text>
<text x="474.92" y="103.8" font-size="3.4" fill="#000" stroke="#000" stroke-width=".16" text-anchor="middle">2</text>
<text x="498.08" y="103.8" font-size="3.4" fill="#000" stroke="#000" stroke-width=".16" text-anchor="middle">3</text>
<text x="521.24" y="103.8" font-size="3.4" fill="#000" stroke="#000" stroke-width=".16" text-anchor="middle">4</text>
<text x="544.4" y="103.8" font-size="3.4" fill="#000" stroke="#000" stroke-width=".16" text-anchor="middle">5</text>
<text x="486.7" y="110.3" font-size="5.7" fill="#0a0a0a" stroke="#0a0a0a" stroke-width=".2" text-anchor="middle">Range (m)</text>
<text transform="translate(419.2 53.35) rotate(-90)" font-size="5.7" fill="#0a0a0a" stroke="#0a0a0a" stroke-width=".2" text-anchor="middle">Speed (m/s)</text>
<g clip-path="url(#c4)">
<rect x="19.1" y="133.7" width="115.8" height="90.6" fill="#3E26A8"/>
<ellipse cx="77.8" cy="192.5" rx="3" ry="62.5" fill="url(#st)" opacity="0.11"/>
<ellipse cx="80" cy="177.2" rx="100" ry="1.3" fill="url(#st)" opacity="0.18"/>
<ellipse cx="95" cy="156" rx="65" ry="11.7" fill="url(#st)" opacity="0.11"/>
<ellipse cx="73" cy="153" rx="0.9" ry="2.0" fill="url(#faint)" opacity="0.19"/>
<ellipse cx="70.7" cy="153" rx="0.9" ry="2.0" fill="url(#faint)" opacity="0.18"/>
<ellipse cx="68.4" cy="153" rx="0.9" ry="2.0" fill="url(#faint)" opacity="0.16"/>
<ellipse cx="66.1" cy="153" rx="0.9" ry="2.0" fill="url(#faint)" opacity="0.15"/>
<ellipse cx="63.8" cy="153" rx="0.9" ry="2.0" fill="url(#faint)" opacity="0.14"/>
<ellipse cx="61.5" cy="153" rx="0.9" ry="2.0" fill="url(#faint)" opacity="0.13"/>
<ellipse cx="59.2" cy="153" rx="0.9" ry="2.0" fill="url(#faint)" opacity="0.12"/>
<ellipse cx="56.9" cy="153" rx="0.9" ry="2.0" fill="url(#faint)" opacity="0.11"/>
<ellipse cx="54.6" cy="153" rx="0.9" ry="2.0" fill="url(#faint)" opacity="0.11"/>
<ellipse cx="52.3" cy="153" rx="0.9" ry="2.0" fill="url(#faint)" opacity="0.1"/>
<ellipse cx="50" cy="153" rx="0.9" ry="2.0" fill="url(#faint)" opacity="0.09"/>
<ellipse cx="47.7" cy="153" rx="0.9" ry="2.0" fill="url(#faint)" opacity="0.09"/>
<ellipse cx="45.4" cy="153" rx="0.9" ry="2.0" fill="url(#faint)" opacity="0.08"/>
<ellipse cx="43.1" cy="153" rx="0.9" ry="2.0" fill="url(#faint)" opacity="0.07"/>
<ellipse cx="40.8" cy="153" rx="0.9" ry="2.0" fill="url(#faint)" opacity="0.07"/>
<ellipse cx="74" cy="159.6" rx="0.9" ry="2.0" fill="url(#faint)" opacity="0.17"/>
<ellipse cx="71.7" cy="159.6" rx="0.9" ry="2.0" fill="url(#faint)" opacity="0.15"/>
<ellipse cx="69.4" cy="159.6" rx="0.9" ry="2.0" fill="url(#faint)" opacity="0.14"/>
<ellipse cx="67.1" cy="159.6" rx="0.9" ry="2.0" fill="url(#faint)" opacity="0.13"/>
<ellipse cx="64.8" cy="159.6" rx="0.9" ry="2.0" fill="url(#faint)" opacity="0.12"/>
<ellipse cx="62.5" cy="159.6" rx="0.9" ry="2.0" fill="url(#faint)" opacity="0.11"/>
<ellipse cx="60.2" cy="159.6" rx="0.9" ry="2.0" fill="url(#faint)" opacity="0.1"/>
<ellipse cx="57.9" cy="159.6" rx="0.9" ry="2.0" fill="url(#faint)" opacity="0.09"/>
<ellipse cx="55.6" cy="159.6" rx="0.9" ry="2.0" fill="url(#faint)" opacity="0.09"/>
<ellipse cx="53.3" cy="159.6" rx="0.9" ry="2.0" fill="url(#faint)" opacity="0.08"/>
<ellipse cx="51" cy="159.6" rx="0.9" ry="2.0" fill="url(#faint)" opacity="0.07"/>
<ellipse cx="48.7" cy="159.6" rx="0.9" ry="2.0" fill="url(#faint)" opacity="0.07"/>
<ellipse cx="46.4" cy="159.6" rx="0.9" ry="2.0" fill="url(#faint)" opacity="0.06"/>
<ellipse cx="77.8" cy="166" rx="2.2" ry="0.9" fill="url(#faint)" opacity="0.1"/>
<ellipse cx="77.8" cy="168.6" rx="2.2" ry="0.9" fill="url(#faint)" opacity="0.1"/>
<ellipse cx="77.8" cy="171.2" rx="2.2" ry="0.9" fill="url(#faint)" opacity="0.09"/>
<ellipse cx="77.8" cy="173.8" rx="2.2" ry="0.9" fill="url(#faint)" opacity="0.09"/>
<ellipse cx="77.8" cy="176.4" rx="2.2" ry="0.9" fill="url(#faint)" opacity="0.08"/>
<ellipse cx="77.8" cy="179" rx="2.2" ry="0.9" fill="url(#faint)" opacity="0.08"/>
<ellipse cx="77.8" cy="181.6" rx="2.2" ry="0.9" fill="url(#faint)" opacity="0.08"/>
<ellipse cx="77.8" cy="184.2" rx="2.2" ry="0.9" fill="url(#faint)" opacity="0.07"/>
<ellipse cx="77.8" cy="186.8" rx="2.2" ry="0.9" fill="url(#faint)" opacity="0.07"/>
<ellipse cx="77.8" cy="189.4" rx="2.2" ry="0.9" fill="url(#faint)" opacity="0.07"/>
<ellipse cx="77.8" cy="192" rx="2.2" ry="0.9" fill="url(#faint)" opacity="0.06"/>
<ellipse cx="77.8" cy="194.6" rx="2.2" ry="0.9" fill="url(#faint)" opacity="0.06"/>
<ellipse cx="77.8" cy="197.2" rx="2.2" ry="0.9" fill="url(#faint)" opacity="0.06"/>
<ellipse cx="77.8" cy="199.8" rx="2.2" ry="0.9" fill="url(#faint)" opacity="0.05"/>
<ellipse cx="77.8" cy="202.4" rx="2.2" ry="0.9" fill="url(#faint)" opacity="0.05"/>
<ellipse cx="77.8" cy="205" rx="2.2" ry="0.9" fill="url(#faint)" opacity="0.05"/>
<ellipse cx="77.8" cy="207.6" rx="2.2" ry="0.9" fill="url(#faint)" opacity="0.05"/>
<ellipse cx="77.8" cy="210.2" rx="2.2" ry="0.9" fill="url(#faint)" opacity="0.04"/>
<ellipse cx="77.8" cy="212.8" rx="2.2" ry="0.9" fill="url(#faint)" opacity="0.04"/>
<ellipse cx="77.8" cy="215.4" rx="2.2" ry="0.9" fill="url(#faint)" opacity="0.04"/>
<ellipse cx="77.8" cy="218" rx="2.2" ry="0.9" fill="url(#faint)" opacity="0.04"/>
<ellipse cx="77.8" cy="220.6" rx="2.2" ry="0.9" fill="url(#faint)" opacity="0.04"/>
<ellipse cx="106" cy="160" rx="29.76" ry="18.6" fill="url(#st)" opacity=".16"/>
<circle cx="90.67" cy="166.03" r="1.03" fill="url(#faint)" opacity="0.34"/>
<circle cx="101.32" cy="160.52" r="0.83" fill="url(#faint)" opacity="0.15"/>
<circle cx="129.86" cy="156.22" r="0.8" fill="url(#faint)" opacity="0.36"/>
<circle cx="119.79" cy="149.68" r="1.24" fill="url(#faint)" opacity="0.26"/>
<circle cx="106.93" cy="145.62" r="0.73" fill="url(#faint)" opacity="0.49"/>
<circle cx="123.57" cy="159.59" r="1.21" fill="url(#faint)" opacity="0.23"/>
<circle cx="119.4" cy="157.78" r="1.55" fill="url(#faint)" opacity="0.41"/>
<circle cx="121.3" cy="173.9" r="0.93" fill="url(#faint)" opacity="0.15"/>
<circle cx="91.65" cy="150.42" r="0.78" fill="url(#faint)" opacity="0.15"/>
<circle cx="108.75" cy="171.12" r="1.11" fill="url(#faint)" opacity="0.48"/>
<circle cx="125.68" cy="146.93" r="1.24" fill="url(#faint)" opacity="0.28"/>
<circle cx="87.76" cy="173.78" r="0.93" fill="url(#faint)" opacity="0.34"/>
<circle cx="112.75" cy="173.69" r="1.3" fill="url(#faint)" opacity="0.28"/>
<circle cx="103.52" cy="149.79" r="1.57" fill="url(#faint)" opacity="0.49"/>
<circle cx="92.64" cy="146.16" r="0.93" fill="url(#faint)" opacity="0.26"/>
<circle cx="125.33" cy="172.14" r="1.45" fill="url(#faint)" opacity="0.15"/>
<circle cx="119.75" cy="166.29" r="1.28" fill="url(#faint)" opacity="0.49"/>
<circle cx="84.68" cy="149.34" r="1.38" fill="url(#faint)" opacity="0.47"/>
<circle cx="114.49" cy="153.96" r="1.23" fill="url(#faint)" opacity="0.41"/>
<circle cx="87.06" cy="154.72" r="0.93" fill="url(#faint)" opacity="0.18"/>
<circle cx="105.1" cy="150.06" r="0.91" fill="url(#faint)" opacity="0.19"/>
<circle cx="114.53" cy="145.38" r="1.35" fill="url(#faint)" opacity="0.21"/>
<circle cx="83.73" cy="172.83" r="0.9" fill="url(#faint)" opacity="0.47"/>
<circle cx="123.6" cy="171.66" r="0.83" fill="url(#faint)" opacity="0.3"/>
<circle cx="86.66" cy="172.86" r="1.46" fill="url(#faint)" opacity="0.36"/>
<circle cx="103.71" cy="155.19" r="1.44" fill="url(#faint)" opacity="0.31"/>
<circle cx="112.15" cy="149.28" r="0.9" fill="url(#faint)" opacity="0.16"/>
<circle cx="116.26" cy="161.6" r="0.83" fill="url(#faint)" opacity="0.45"/>
<circle cx="94.79" cy="157.35" r="0.84" fill="url(#faint)" opacity="0.23"/>
<circle cx="122.3" cy="155.04" r="0.85" fill="url(#faint)" opacity="0.31"/>
<circle cx="97.27" cy="172.1" r="0.8" fill="url(#faint)" opacity="0.49"/>
<circle cx="84.73" cy="171.85" r="1.3" fill="url(#faint)" opacity="0.21"/>
<circle cx="104.92" cy="153.59" r="0.93" fill="url(#faint)" opacity="0.21"/>
<circle cx="99.49" cy="174.73" r="1.6" fill="url(#faint)" opacity="0.47"/>
<circle cx="86.68" cy="153.68" r="1.51" fill="url(#faint)" opacity="0.16"/>
<circle cx="116.87" cy="153.81" r="1.58" fill="url(#faint)" opacity="0.14"/>
<circle cx="120.74" cy="155.23" r="0.83" fill="url(#faint)" opacity="0.14"/>
<circle cx="121.95" cy="160.8" r="0.87" fill="url(#faint)" opacity="0.29"/>
<circle cx="125.78" cy="151.55" r="1.21" fill="url(#faint)" opacity="0.18"/>
<circle cx="90.65" cy="168.11" r="1.34" fill="url(#faint)" opacity="0.21"/>
<circle cx="85.8" cy="147.62" r="1.25" fill="url(#faint)" opacity="0.31"/>
<circle cx="95.15" cy="151.18" r="1.25" fill="url(#faint)" opacity="0.39"/>
<circle cx="120.96" cy="162.49" r="0.88" fill="url(#faint)" opacity="0.16"/>
<circle cx="117.17" cy="157.24" r="1.35" fill="url(#faint)" opacity="0.15"/>
<circle cx="120.91" cy="155.06" r="1.46" fill="url(#faint)" opacity="0.45"/>
<circle cx="105.66" cy="145.46" r="1.52" fill="url(#faint)" opacity="0.31"/>
<circle cx="123.86" cy="152.99" r="0.87" fill="url(#faint)" opacity="0.43"/>
<circle cx="99.62" cy="149.9" r="1.03" fill="url(#faint)" opacity="0.35"/>
<circle cx="82.22" cy="160.59" r="1.1" fill="url(#faint)" opacity="0.32"/>
<circle cx="87.8" cy="166.44" r="1.43" fill="url(#faint)" opacity="0.45"/>
<circle cx="97.41" cy="166.34" r="1.04" fill="url(#faint)" opacity="0.41"/>
<circle cx="84.94" cy="171.18" r="1.56" fill="url(#faint)" opacity="0.31"/>
<circle cx="106.64" cy="160.92" r="1.18" fill="url(#faint)" opacity="0.14"/>
<circle cx="128.44" cy="151.71" r="0.86" fill="url(#faint)" opacity="0.17"/>
<circle cx="94.02" cy="169.51" r="0.73" fill="url(#faint)" opacity="0.17"/>
<circle cx="115.55" cy="150.85" r="0.72" fill="url(#faint)" opacity="0.35"/>
<circle cx="109.67" cy="160.69" r="1.33" fill="url(#faint)" opacity="0.17"/>
<circle cx="123.74" cy="166.51" r="0.74" fill="url(#faint)" opacity="0.18"/>
<circle cx="105.69" cy="160.02" r="0.95" fill="url(#faint)" opacity="0.18"/>
<circle cx="101.47" cy="149.11" r="1.23" fill="url(#faint)" opacity="0.44"/>
<circle cx="89.07" cy="162.19" r="1.37" fill="url(#faint)" opacity="0.19"/>
<circle cx="121.65" cy="173.13" r="1.05" fill="url(#faint)" opacity="0.29"/>
<circle cx="122.31" cy="160.77" r="1.06" fill="url(#faint)" opacity="0.47"/>
<circle cx="119.29" cy="155.16" r="0.92" fill="url(#faint)" opacity="0.26"/>
<circle cx="102.91" cy="174.44" r="1.42" fill="url(#faint)" opacity="0.46"/>
<circle cx="121.12" cy="170.43" r="0.75" fill="url(#faint)" opacity="0.32"/>
<circle cx="127.98" cy="173.03" r="0.92" fill="url(#faint)" opacity="0.29"/>
<circle cx="112.37" cy="155.93" r="1.18" fill="url(#faint)" opacity="0.16"/>
<circle cx="102.79" cy="160.14" r="0.72" fill="url(#faint)" opacity="0.19"/>
<circle cx="128.55" cy="168.3" r="1.54" fill="url(#faint)" opacity="0.36"/>
<circle cx="120.84" cy="171.53" r="1.5" fill="url(#faint)" opacity="0.15"/>
<circle cx="112.8" cy="152.97" r="1.31" fill="url(#faint)" opacity="0.23"/>
<circle cx="108.03" cy="172.73" r="1.26" fill="url(#faint)" opacity="0.23"/>
<circle cx="106.97" cy="158.01" r="1.56" fill="url(#faint)" opacity="0.24"/>
<circle cx="96.66" cy="164.43" r="0.81" fill="url(#faint)" opacity="0.35"/>
<circle cx="127.89" cy="160.41" r="0.94" fill="url(#faint)" opacity="0.3"/>
<circle cx="107.62" cy="149.45" r="0.81" fill="url(#faint)" opacity="0.18"/>
<circle cx="96.09" cy="157.2" r="0.96" fill="url(#faint)" opacity="0.22"/>
<circle cx="86.22" cy="161.39" r="1.46" fill="url(#faint)" opacity="0.35"/>
<circle cx="109.37" cy="164.51" r="0.88" fill="url(#faint)" opacity="0.39"/>
<circle cx="104.12" cy="161.44" r="1.25" fill="url(#faint)" opacity="0.3"/>
<circle cx="96.9" cy="152.27" r="0.9" fill="url(#faint)" opacity="0.32"/>
<circle cx="100.39" cy="162.57" r="0.71" fill="url(#faint)" opacity="0.26"/>
<circle cx="123.37" cy="152.16" r="1.2" fill="url(#faint)" opacity="0.31"/>
<circle cx="95.67" cy="174.63" r="0.97" fill="url(#faint)" opacity="0.41"/>
<circle cx="89.61" cy="147" r="1.48" fill="url(#faint)" opacity="0.29"/>
<circle cx="84.98" cy="156.64" r="1.1" fill="url(#faint)" opacity="0.4"/>
<circle cx="87.24" cy="151.76" r="1.56" fill="url(#faint)" opacity="0.4"/>
<circle cx="89.42" cy="155.11" r="1.02" fill="url(#faint)" opacity="0.38"/>
<circle cx="111.58" cy="170.5" r="1.44" fill="url(#faint)" opacity="0.32"/>
<circle cx="117.46" cy="167.3" r="1.38" fill="url(#faint)" opacity="0.31"/>
<circle cx="119.68" cy="166.26" r="1.52" fill="url(#faint)" opacity="0.18"/>
<circle cx="123.8" cy="145.13" r="1.39" fill="url(#faint)" opacity="0.35"/>
<circle cx="105.9" cy="173.88" r="1.21" fill="url(#faint)" opacity="0.29"/>
<circle cx="119.62" cy="171.18" r="1.25" fill="url(#faint)" opacity="0.27"/>
<circle cx="103.71" cy="158.74" r="1.35" fill="url(#faint)" opacity="0.24"/>
<circle cx="100.75" cy="161.66" r="1.05" fill="url(#faint)" opacity="0.25"/>
<circle cx="119.78" cy="170.49" r="1.15" fill="url(#faint)" opacity="0.29"/>
<circle cx="90.84" cy="154.12" r="0.83" fill="url(#faint)" opacity="0.34"/>
<circle cx="109.92" cy="147.64" r="1.53" fill="url(#faint)" opacity="0.25"/>
<circle cx="122.48" cy="170.14" r="1.56" fill="url(#faint)" opacity="0.21"/>
<circle cx="102.47" cy="172.32" r="0.71" fill="url(#faint)" opacity="0.15"/>
<circle cx="109.12" cy="159.92" r="1.53" fill="url(#faint)" opacity="0.41"/>
<circle cx="107.85" cy="174.95" r="1.17" fill="url(#faint)" opacity="0.32"/>
<circle cx="114.89" cy="156.69" r="1.02" fill="url(#faint)" opacity="0.35"/>
<circle cx="98.85" cy="173.44" r="1.31" fill="url(#faint)" opacity="0.32"/>
<circle cx="86.75" cy="156.23" r="1.06" fill="url(#faint)" opacity="0.34"/>
<circle cx="109.55" cy="171.4" r="1.57" fill="url(#faint)" opacity="0.31"/>
<circle cx="103.13" cy="163.74" r="1.6" fill="url(#faint)" opacity="0.26"/>
<circle cx="107.45" cy="169.48" r="0.85" fill="url(#faint)" opacity="0.25"/>
<rect x="19" y="178.15" width="116" height="0.9" fill="#2B1A8C" opacity="0.2"/>
<ellipse cx="78.2" cy="155.5" rx="6" ry="10.5" fill="url(#halo)" opacity="0.85" transform="rotate(-8 78.2 155.5)"/>
<ellipse cx="92" cy="160" rx="10" ry="7" fill="url(#halo)" opacity="0.3" transform="rotate(30 92 160)"/>
<ellipse cx="76.3" cy="148.8" rx="3" ry="3" fill="url(#warm)"/>
<ellipse cx="76.3" cy="148.7" rx="1.7" ry="1.7" fill="url(#hot)"/>
<ellipse cx="77" cy="155.2" rx="3.2" ry="3" fill="url(#warm)"/>
<ellipse cx="80.1" cy="156.4" rx="2.6" ry="2.6" fill="url(#cyan)"/>
<ellipse cx="74.4" cy="156.6" rx="2.2" ry="2.4" fill="url(#cyan)"/>
<ellipse cx="79" cy="162.7" rx="2.8" ry="2.8" fill="url(#cyan)"/>
<ellipse cx="75.3" cy="152.6" rx="3.3" ry="3.2" fill="url(#hot)"/>
<ellipse cx="80.5" cy="153" rx="3.1" ry="3" fill="url(#hot)"/>
<ellipse cx="78" cy="159.5" rx="3.3" ry="3.2" fill="url(#hot)"/>
<ellipse cx="88.6" cy="155.4" rx="2.4" ry="2.4" fill="url(#cool)"/>
<ellipse cx="90.6" cy="158.2" rx="2.6" ry="2.6" fill="url(#cool)"/>
<ellipse cx="94.8" cy="164" rx="2.4" ry="2.4" fill="url(#cool)"/>
<ellipse cx="98" cy="165.6" rx="2.2" ry="2.2" fill="url(#cool)"/>
<ellipse cx="106" cy="163" rx="2.2" ry="2.2" fill="url(#faint)"/>
<ellipse cx="84" cy="149" rx="2" ry="2" fill="url(#faint)"/>
<ellipse cx="119.2" cy="176.6" rx="2.6" ry="2.2" fill="url(#cyan)"/>
<ellipse cx="119.3" cy="180.3" rx="2" ry="1.8" fill="url(#cool)"/>
</g>
<text x="72.7" y="143.5" font-size="11" fill="#FFF200" text-anchor="middle"># 69</text>
<text x="17" y="135" font-size="3.4" fill="#000" stroke="#000" stroke-width=".16" text-anchor="end">-1.5</text>
<text x="17" y="150.05" font-size="3.4" fill="#000" stroke="#000" stroke-width=".16" text-anchor="end">-1</text>
<text x="17" y="165.1" font-size="3.4" fill="#000" stroke="#000" stroke-width=".16" text-anchor="end">-0.5</text>
<text x="17" y="180.15" font-size="3.4" fill="#000" stroke="#000" stroke-width=".16" text-anchor="end">0</text>
<text x="17" y="195.2" font-size="3.4" fill="#000" stroke="#000" stroke-width=".16" text-anchor="end">0.5</text>
<text x="17" y="210.25" font-size="3.4" fill="#000" stroke="#000" stroke-width=".16" text-anchor="end">1</text>
<text x="17" y="225.3" font-size="3.4" fill="#000" stroke="#000" stroke-width=".16" text-anchor="end">1.5</text>
<text x="18.9" y="229.4" font-size="3.4" fill="#000" stroke="#000" stroke-width=".16" text-anchor="middle">0</text>
<text x="42.06" y="229.4" font-size="3.4" fill="#000" stroke="#000" stroke-width=".16" text-anchor="middle">1</text>
<text x="65.22" y="229.4" font-size="3.4" fill="#000" stroke="#000" stroke-width=".16" text-anchor="middle">2</text>
<text x="88.38" y="229.4" font-size="3.4" fill="#000" stroke="#000" stroke-width=".16" text-anchor="middle">3</text>
<text x="111.54" y="229.4" font-size="3.4" fill="#000" stroke="#000" stroke-width=".16" text-anchor="middle">4</text>
<text x="134.7" y="229.4" font-size="3.4" fill="#000" stroke="#000" stroke-width=".16" text-anchor="middle">5</text>
<text x="77" y="236" font-size="5.7" fill="#0a0a0a" stroke="#0a0a0a" stroke-width=".2" text-anchor="middle">Range (m)</text>
<text transform="translate(9.5 179) rotate(-90)" font-size="5.7" fill="#0a0a0a" stroke="#0a0a0a" stroke-width=".2" text-anchor="middle">Speed (m/s)</text>
<g clip-path="url(#c5)">
<rect x="152.9" y="133.8" width="115.7" height="90.5" fill="#3E26A8"/>
<ellipse cx="198.3" cy="192.5" rx="3" ry="62.5" fill="url(#st)" opacity="0.15"/>
<ellipse cx="177.5" cy="162" rx="37.5" ry="11.7" fill="url(#st)" opacity="0.1"/>
<ellipse cx="210" cy="178" rx="90" ry="1.17" fill="url(#st)" opacity="0.1"/>
<ellipse cx="195" cy="166.8" rx="0.9" ry="2.0" fill="url(#faint)" opacity="0.21"/>
<ellipse cx="192.7" cy="166.8" rx="0.9" ry="2.0" fill="url(#faint)" opacity="0.2"/>
<ellipse cx="190.4" cy="166.8" rx="0.9" ry="2.0" fill="url(#faint)" opacity="0.18"/>
<ellipse cx="188.1" cy="166.8" rx="0.9" ry="2.0" fill="url(#faint)" opacity="0.17"/>
<ellipse cx="185.8" cy="166.8" rx="0.9" ry="2.0" fill="url(#faint)" opacity="0.16"/>
<ellipse cx="183.5" cy="166.8" rx="0.9" ry="2.0" fill="url(#faint)" opacity="0.15"/>
<ellipse cx="181.2" cy="166.8" rx="0.9" ry="2.0" fill="url(#faint)" opacity="0.14"/>
<ellipse cx="178.9" cy="166.8" rx="0.9" ry="2.0" fill="url(#faint)" opacity="0.13"/>
<ellipse cx="176.6" cy="166.8" rx="0.9" ry="2.0" fill="url(#faint)" opacity="0.12"/>
<ellipse cx="174.3" cy="166.8" rx="0.9" ry="2.0" fill="url(#faint)" opacity="0.11"/>
<ellipse cx="172" cy="166.8" rx="0.9" ry="2.0" fill="url(#faint)" opacity="0.1"/>
<ellipse cx="169.7" cy="166.8" rx="0.9" ry="2.0" fill="url(#faint)" opacity="0.09"/>
<ellipse cx="167.4" cy="166.8" rx="0.9" ry="2.0" fill="url(#faint)" opacity="0.09"/>
<ellipse cx="165.1" cy="166.8" rx="0.9" ry="2.0" fill="url(#faint)" opacity="0.08"/>
<ellipse cx="162.8" cy="166.8" rx="0.9" ry="2.0" fill="url(#faint)" opacity="0.08"/>
<ellipse cx="160.5" cy="166.8" rx="0.9" ry="2.0" fill="url(#faint)" opacity="0.07"/>
<ellipse cx="158.2" cy="166.8" rx="0.9" ry="2.0" fill="url(#faint)" opacity="0.07"/>
<ellipse cx="195" cy="155.5" rx="0.9" ry="2.0" fill="url(#faint)" opacity="0.17"/>
<ellipse cx="192.7" cy="155.5" rx="0.9" ry="2.0" fill="url(#faint)" opacity="0.15"/>
<ellipse cx="190.4" cy="155.5" rx="0.9" ry="2.0" fill="url(#faint)" opacity="0.14"/>
<ellipse cx="188.1" cy="155.5" rx="0.9" ry="2.0" fill="url(#faint)" opacity="0.13"/>
<ellipse cx="185.8" cy="155.5" rx="0.9" ry="2.0" fill="url(#faint)" opacity="0.12"/>
<ellipse cx="183.5" cy="155.5" rx="0.9" ry="2.0" fill="url(#faint)" opacity="0.11"/>
<ellipse cx="181.2" cy="155.5" rx="0.9" ry="2.0" fill="url(#faint)" opacity="0.1"/>
<ellipse cx="178.9" cy="155.5" rx="0.9" ry="2.0" fill="url(#faint)" opacity="0.09"/>
<ellipse cx="176.6" cy="155.5" rx="0.9" ry="2.0" fill="url(#faint)" opacity="0.09"/>
<ellipse cx="174.3" cy="155.5" rx="0.9" ry="2.0" fill="url(#faint)" opacity="0.08"/>
<ellipse cx="172" cy="155.5" rx="0.9" ry="2.0" fill="url(#faint)" opacity="0.07"/>
<ellipse cx="169.7" cy="155.5" rx="0.9" ry="2.0" fill="url(#faint)" opacity="0.07"/>
<ellipse cx="167.4" cy="155.5" rx="0.9" ry="2.0" fill="url(#faint)" opacity="0.06"/>
<ellipse cx="165.1" cy="155.5" rx="0.9" ry="2.0" fill="url(#faint)" opacity="0.06"/>
<ellipse cx="162.8" cy="155.5" rx="0.9" ry="2.0" fill="url(#faint)" opacity="0.05"/>
<ellipse cx="160.5" cy="155.5" rx="0.9" ry="2.0" fill="url(#faint)" opacity="0.05"/>
<ellipse cx="198.3" cy="176" rx="2.2" ry="0.9" fill="url(#faint)" opacity="0.12"/>
<ellipse cx="198.3" cy="178.6" rx="2.2" ry="0.9" fill="url(#faint)" opacity="0.11"/>
<ellipse cx="198.3" cy="181.2" rx="2.2" ry="0.9" fill="url(#faint)" opacity="0.1"/>
<ellipse cx="198.3" cy="183.8" rx="2.2" ry="0.9" fill="url(#faint)" opacity="0.1"/>
<ellipse cx="198.3" cy="186.4" rx="2.2" ry="0.9" fill="url(#faint)" opacity="0.09"/>
<ellipse cx="198.3" cy="189" rx="2.2" ry="0.9" fill="url(#faint)" opacity="0.09"/>
<ellipse cx="198.3" cy="191.6" rx="2.2" ry="0.9" fill="url(#faint)" opacity="0.08"/>
<ellipse cx="198.3" cy="194.2" rx="2.2" ry="0.9" fill="url(#faint)" opacity="0.08"/>
<ellipse cx="198.3" cy="196.8" rx="2.2" ry="0.9" fill="url(#faint)" opacity="0.08"/>
<ellipse cx="198.3" cy="199.4" rx="2.2" ry="0.9" fill="url(#faint)" opacity="0.07"/>
<ellipse cx="198.3" cy="202" rx="2.2" ry="0.9" fill="url(#faint)" opacity="0.07"/>
<ellipse cx="198.3" cy="204.6" rx="2.2" ry="0.9" fill="url(#faint)" opacity="0.07"/>
<ellipse cx="198.3" cy="207.2" rx="2.2" ry="0.9" fill="url(#faint)" opacity="0.06"/>
<ellipse cx="198.3" cy="209.8" rx="2.2" ry="0.9" fill="url(#faint)" opacity="0.06"/>
<ellipse cx="198.3" cy="212.4" rx="2.2" ry="0.9" fill="url(#faint)" opacity="0.06"/>
<ellipse cx="198.3" cy="215" rx="2.2" ry="0.9" fill="url(#faint)" opacity="0.05"/>
<ellipse cx="198.3" cy="217.6" rx="2.2" ry="0.9" fill="url(#faint)" opacity="0.05"/>
<ellipse cx="198.3" cy="220.2" rx="2.2" ry="0.9" fill="url(#faint)" opacity="0.05"/>
<ellipse cx="232.5" cy="162.5" rx="36.58" ry="21.7" fill="url(#st)" opacity=".16"/>
<circle cx="260.73" cy="173.91" r="1.16" fill="url(#faint)" opacity="0.14"/>
<circle cx="255.78" cy="169.15" r="1.44" fill="url(#faint)" opacity="0.38"/>
<circle cx="255.4" cy="159.73" r="0.84" fill="url(#faint)" opacity="0.19"/>
<circle cx="233.18" cy="162.67" r="0.87" fill="url(#faint)" opacity="0.16"/>
<circle cx="240.18" cy="166.11" r="1.02" fill="url(#faint)" opacity="0.38"/>
<circle cx="240.55" cy="146.48" r="1.07" fill="url(#faint)" opacity="0.33"/>
<circle cx="221.1" cy="169.17" r="0.7" fill="url(#faint)" opacity="0.19"/>
<circle cx="252.69" cy="165.52" r="1.3" fill="url(#faint)" opacity="0.16"/>
<circle cx="232.37" cy="164.36" r="0.94" fill="url(#faint)" opacity="0.29"/>
<circle cx="234.36" cy="179.9" r="1.22" fill="url(#faint)" opacity="0.22"/>
<circle cx="210.17" cy="150.49" r="1.38" fill="url(#faint)" opacity="0.13"/>
<circle cx="208.91" cy="150.97" r="1.17" fill="url(#faint)" opacity="0.34"/>
<circle cx="239.17" cy="173.23" r="0.76" fill="url(#faint)" opacity="0.11"/>
<circle cx="248.46" cy="156.3" r="1.34" fill="url(#faint)" opacity="0.2"/>
<circle cx="213" cy="154.33" r="0.79" fill="url(#faint)" opacity="0.36"/>
<circle cx="237.35" cy="157.21" r="1.1" fill="url(#faint)" opacity="0.21"/>
<circle cx="206.23" cy="176.17" r="1.22" fill="url(#faint)" opacity="0.37"/>
<circle cx="228.94" cy="166.71" r="0.92" fill="url(#faint)" opacity="0.12"/>
<circle cx="257.92" cy="174.92" r="0.98" fill="url(#faint)" opacity="0.36"/>
<circle cx="251.14" cy="155.63" r="1.24" fill="url(#faint)" opacity="0.37"/>
<circle cx="232.24" cy="178.24" r="0.92" fill="url(#faint)" opacity="0.21"/>
<circle cx="245.39" cy="152.75" r="0.98" fill="url(#faint)" opacity="0.35"/>
<circle cx="231.58" cy="172.75" r="0.92" fill="url(#faint)" opacity="0.15"/>
<circle cx="224.15" cy="151.53" r="1.57" fill="url(#faint)" opacity="0.19"/>
<circle cx="236.13" cy="149.02" r="1.18" fill="url(#faint)" opacity="0.21"/>
<circle cx="226.79" cy="147.29" r="0.81" fill="url(#faint)" opacity="0.34"/>
<circle cx="223.72" cy="153.57" r="0.87" fill="url(#faint)" opacity="0.18"/>
<circle cx="216.99" cy="146.22" r="1.3" fill="url(#faint)" opacity="0.2"/>
<circle cx="212.2" cy="169.71" r="0.78" fill="url(#faint)" opacity="0.18"/>
<circle cx="252.27" cy="149.47" r="1.1" fill="url(#faint)" opacity="0.34"/>
<circle cx="250.49" cy="150.57" r="1.02" fill="url(#faint)" opacity="0.31"/>
<circle cx="225.24" cy="178.54" r="0.89" fill="url(#faint)" opacity="0.37"/>
<circle cx="232.78" cy="152.95" r="1.11" fill="url(#faint)" opacity="0.14"/>
<circle cx="244.68" cy="154.13" r="1.51" fill="url(#faint)" opacity="0.27"/>
<circle cx="224.71" cy="153.62" r="1.25" fill="url(#faint)" opacity="0.16"/>
<circle cx="254.47" cy="149.3" r="1.16" fill="url(#faint)" opacity="0.26"/>
<circle cx="218.95" cy="172.01" r="1.05" fill="url(#faint)" opacity="0.29"/>
<circle cx="236.49" cy="155.88" r="1.05" fill="url(#faint)" opacity="0.13"/>
<circle cx="213.45" cy="174.79" r="0.99" fill="url(#faint)" opacity="0.29"/>
<circle cx="209.43" cy="164.67" r="1.03" fill="url(#faint)" opacity="0.25"/>
<circle cx="220.52" cy="147.31" r="0.98" fill="url(#faint)" opacity="0.17"/>
<circle cx="210.44" cy="170.08" r="0.95" fill="url(#faint)" opacity="0.22"/>
<circle cx="256.63" cy="172.12" r="1.49" fill="url(#faint)" opacity="0.35"/>
<circle cx="210.8" cy="154.68" r="0.73" fill="url(#faint)" opacity="0.3"/>
<circle cx="242.15" cy="157.3" r="1.07" fill="url(#faint)" opacity="0.29"/>
<circle cx="244.26" cy="153.69" r="1.46" fill="url(#faint)" opacity="0.2"/>
<circle cx="240.1" cy="151.36" r="0.8" fill="url(#faint)" opacity="0.36"/>
<circle cx="246.31" cy="169.94" r="0.74" fill="url(#faint)" opacity="0.12"/>
<circle cx="212.56" cy="151.93" r="0.97" fill="url(#faint)" opacity="0.21"/>
<circle cx="205.31" cy="155.88" r="1.27" fill="url(#faint)" opacity="0.16"/>
<circle cx="252.53" cy="164.96" r="1.34" fill="url(#faint)" opacity="0.18"/>
<circle cx="228.66" cy="168.95" r="1.01" fill="url(#faint)" opacity="0.11"/>
<circle cx="252.22" cy="172.18" r="0.96" fill="url(#faint)" opacity="0.12"/>
<circle cx="253.39" cy="166.26" r="0.74" fill="url(#faint)" opacity="0.17"/>
<circle cx="209.56" cy="172.7" r="0.89" fill="url(#faint)" opacity="0.36"/>
<circle cx="247.22" cy="148.01" r="1.33" fill="url(#faint)" opacity="0.22"/>
<circle cx="247.11" cy="174.01" r="0.95" fill="url(#faint)" opacity="0.13"/>
<circle cx="258.84" cy="159.84" r="1.54" fill="url(#faint)" opacity="0.3"/>
<circle cx="246.58" cy="174.05" r="1.27" fill="url(#faint)" opacity="0.23"/>
<circle cx="206.2" cy="169.44" r="1.09" fill="url(#faint)" opacity="0.25"/>
<circle cx="257.76" cy="149.47" r="1.39" fill="url(#faint)" opacity="0.12"/>
<circle cx="244.46" cy="173.2" r="0.94" fill="url(#faint)" opacity="0.26"/>
<circle cx="260.2" cy="167.31" r="1.19" fill="url(#faint)" opacity="0.17"/>
<circle cx="206.5" cy="157.52" r="1.07" fill="url(#faint)" opacity="0.16"/>
<circle cx="221.32" cy="149.78" r="1.34" fill="url(#faint)" opacity="0.29"/>
<circle cx="217.03" cy="153.46" r="1.16" fill="url(#faint)" opacity="0.23"/>
<circle cx="258.21" cy="157.3" r="0.97" fill="url(#faint)" opacity="0.35"/>
<circle cx="211.37" cy="164.71" r="1" fill="url(#faint)" opacity="0.33"/>
<circle cx="235.35" cy="171.62" r="0.85" fill="url(#faint)" opacity="0.29"/>
<circle cx="238.32" cy="161.14" r="1.39" fill="url(#faint)" opacity="0.34"/>
<circle cx="209.75" cy="155.13" r="1.02" fill="url(#faint)" opacity="0.16"/>
<circle cx="206.56" cy="154.83" r="0.88" fill="url(#faint)" opacity="0.3"/>
<circle cx="229.43" cy="148.95" r="0.99" fill="url(#faint)" opacity="0.24"/>
<circle cx="224.42" cy="150.88" r="0.76" fill="url(#faint)" opacity="0.11"/>
<circle cx="261.54" cy="171.27" r="0.78" fill="url(#faint)" opacity="0.31"/>
<circle cx="260.83" cy="164.73" r="0.8" fill="url(#faint)" opacity="0.24"/>
<circle cx="228.62" cy="151.64" r="1.19" fill="url(#faint)" opacity="0.11"/>
<circle cx="257.25" cy="167.56" r="1.26" fill="url(#faint)" opacity="0.37"/>
<circle cx="241.5" cy="153.8" r="0.92" fill="url(#faint)" opacity="0.14"/>
<circle cx="204.63" cy="172.11" r="1.46" fill="url(#faint)" opacity="0.19"/>
<circle cx="213.96" cy="167.33" r="1.46" fill="url(#faint)" opacity="0.36"/>
<circle cx="212.94" cy="172.46" r="1.45" fill="url(#faint)" opacity="0.31"/>
<circle cx="222.27" cy="151.46" r="1.44" fill="url(#faint)" opacity="0.19"/>
<circle cx="224.74" cy="164.29" r="1.03" fill="url(#faint)" opacity="0.34"/>
<circle cx="217.12" cy="146.44" r="1.21" fill="url(#faint)" opacity="0.28"/>
<circle cx="251.36" cy="169.7" r="1.51" fill="url(#faint)" opacity="0.37"/>
<circle cx="232.17" cy="162.48" r="0.84" fill="url(#faint)" opacity="0.19"/>
<circle cx="237.29" cy="147.81" r="1.32" fill="url(#faint)" opacity="0.15"/>
<circle cx="229.15" cy="178.94" r="0.78" fill="url(#faint)" opacity="0.12"/>
<circle cx="228.93" cy="151.68" r="1.35" fill="url(#faint)" opacity="0.11"/>
<circle cx="252.61" cy="174.94" r="1.41" fill="url(#faint)" opacity="0.22"/>
<circle cx="219.71" cy="168.16" r="1.16" fill="url(#faint)" opacity="0.22"/>
<circle cx="222.98" cy="160.35" r="1.3" fill="url(#faint)" opacity="0.34"/>
<circle cx="256.34" cy="150.76" r="0.97" fill="url(#faint)" opacity="0.23"/>
<circle cx="236.24" cy="157.18" r="0.88" fill="url(#faint)" opacity="0.13"/>
<circle cx="222.1" cy="161.12" r="1.57" fill="url(#faint)" opacity="0.36"/>
<circle cx="254.06" cy="179.1" r="1.57" fill="url(#faint)" opacity="0.28"/>
<circle cx="250.86" cy="147.1" r="1.31" fill="url(#faint)" opacity="0.28"/>
<circle cx="220.53" cy="164.99" r="1.56" fill="url(#faint)" opacity="0.24"/>
<ellipse cx="198.3" cy="161" rx="4.8" ry="15" fill="url(#halo)" opacity="0.8"/>
<ellipse cx="196.2" cy="148" rx="3" ry="5" fill="url(#halo)" opacity="0.5" transform="rotate(-20 196.2 148)"/>
<ellipse cx="194.8" cy="145.2" rx="2.3" ry="2.5" fill="url(#cool)"/>
<ellipse cx="196.4" cy="148.7" rx="2.3" ry="2.5" fill="url(#cool)"/>
<ellipse cx="199.8" cy="149.6" rx="2" ry="2" fill="url(#cool)"/>
<ellipse cx="198.2" cy="156.3" rx="2.4" ry="4.2" fill="url(#cyan)"/>
<ellipse cx="201.4" cy="155.4" rx="2.2" ry="2.2" fill="url(#cyan)"/>
<ellipse cx="201" cy="159.5" rx="2.1" ry="2.3" fill="url(#cyan)"/>
<ellipse cx="198.1" cy="162.7" rx="2.7" ry="2.5" fill="url(#warm)"/>
<ellipse cx="201.4" cy="164.5" rx="2.1" ry="2.1" fill="url(#cyan)"/>
<ellipse cx="198.2" cy="170" rx="2.4" ry="2.2" fill="url(#warm)"/>
<ellipse cx="197.9" cy="172" rx="2" ry="1.9" fill="url(#warm)"/>
<ellipse cx="198.1" cy="174.8" rx="2.2" ry="2.3" fill="url(#cyan)"/>
<ellipse cx="198.1" cy="166.8" rx="2.7" ry="3.9" fill="url(#hot)"/>
<ellipse cx="218.7" cy="165.5" rx="2.5" ry="2.8" fill="url(#cool)"/>
<ellipse cx="213" cy="170" rx="1.8" ry="1.8" fill="url(#faint)"/>
<ellipse cx="250" cy="177" rx="1.8" ry="1.8" fill="url(#faint)"/>
</g>
<text x="211.3" y="144.4" font-size="11" fill="#FFF200" text-anchor="middle"># 87</text>
<text x="150.8" y="135.1" font-size="3.4" fill="#000" stroke="#000" stroke-width=".16" text-anchor="end">-1.5</text>
<text x="150.8" y="150.15" font-size="3.4" fill="#000" stroke="#000" stroke-width=".16" text-anchor="end">-1</text>
<text x="150.8" y="165.2" font-size="3.4" fill="#000" stroke="#000" stroke-width=".16" text-anchor="end">-0.5</text>
<text x="150.8" y="180.25" font-size="3.4" fill="#000" stroke="#000" stroke-width=".16" text-anchor="end">0</text>
<text x="150.8" y="195.3" font-size="3.4" fill="#000" stroke="#000" stroke-width=".16" text-anchor="end">0.5</text>
<text x="150.8" y="210.35" font-size="3.4" fill="#000" stroke="#000" stroke-width=".16" text-anchor="end">1</text>
<text x="150.8" y="225.4" font-size="3.4" fill="#000" stroke="#000" stroke-width=".16" text-anchor="end">1.5</text>
<text x="152.7" y="229.4" font-size="3.4" fill="#000" stroke="#000" stroke-width=".16" text-anchor="middle">0</text>
<text x="175.84" y="229.4" font-size="3.4" fill="#000" stroke="#000" stroke-width=".16" text-anchor="middle">1</text>
<text x="198.98" y="229.4" font-size="3.4" fill="#000" stroke="#000" stroke-width=".16" text-anchor="middle">2</text>
<text x="222.12" y="229.4" font-size="3.4" fill="#000" stroke="#000" stroke-width=".16" text-anchor="middle">3</text>
<text x="245.26" y="229.4" font-size="3.4" fill="#000" stroke="#000" stroke-width=".16" text-anchor="middle">4</text>
<text x="268.4" y="229.4" font-size="3.4" fill="#000" stroke="#000" stroke-width=".16" text-anchor="middle">5</text>
<text x="210.75" y="236.1" font-size="5.7" fill="#0a0a0a" stroke="#0a0a0a" stroke-width=".2" text-anchor="middle">Range (m)</text>
<text transform="translate(143.3 179.05) rotate(-90)" font-size="5.7" fill="#0a0a0a" stroke="#0a0a0a" stroke-width=".2" text-anchor="middle">Speed (m/s)</text>
<g clip-path="url(#c6)">
<rect x="289.7" y="132.5" width="115.5" height="90.6" fill="#3E26A8"/>
<ellipse cx="326" cy="182.5" rx="2.4" ry="62.5" fill="url(#st)" opacity="0.17"/>
<ellipse cx="330" cy="173.4" rx="45" ry="1.95" fill="url(#st)" opacity="0.32"/>
<ellipse cx="350" cy="173.4" rx="100" ry="1.56" fill="url(#st)" opacity="0.11"/>
<ellipse cx="327.5" cy="189.3" rx="27.5" ry="1.56" fill="url(#st)" opacity="0.14"/>
<ellipse cx="323" cy="173.4" rx="0.9" ry="2.0" fill="url(#faint)" opacity="0.36"/>
<ellipse cx="320.7" cy="173.4" rx="0.9" ry="2.0" fill="url(#faint)" opacity="0.33"/>
<ellipse cx="318.4" cy="173.4" rx="0.9" ry="2.0" fill="url(#faint)" opacity="0.31"/>
<ellipse cx="316.1" cy="173.4" rx="0.9" ry="2.0" fill="url(#faint)" opacity="0.29"/>
<ellipse cx="313.8" cy="173.4" rx="0.9" ry="2.0" fill="url(#faint)" opacity="0.27"/>
<ellipse cx="311.5" cy="173.4" rx="0.9" ry="2.0" fill="url(#faint)" opacity="0.25"/>
<ellipse cx="309.2" cy="173.4" rx="0.9" ry="2.0" fill="url(#faint)" opacity="0.23"/>
<ellipse cx="306.9" cy="173.4" rx="0.9" ry="2.0" fill="url(#faint)" opacity="0.21"/>
<ellipse cx="304.6" cy="173.4" rx="0.9" ry="2.0" fill="url(#faint)" opacity="0.2"/>
<ellipse cx="302.3" cy="173.4" rx="0.9" ry="2.0" fill="url(#faint)" opacity="0.19"/>
<ellipse cx="300" cy="173.4" rx="0.9" ry="2.0" fill="url(#faint)" opacity="0.17"/>
<ellipse cx="297.7" cy="173.4" rx="0.9" ry="2.0" fill="url(#faint)" opacity="0.16"/>
<ellipse cx="295.4" cy="173.4" rx="0.9" ry="2.0" fill="url(#faint)" opacity="0.15"/>
<ellipse cx="293.1" cy="173.4" rx="0.9" ry="2.0" fill="url(#faint)" opacity="0.14"/>
<ellipse cx="329" cy="173.4" rx="0.9" ry="2.0" fill="url(#faint)" opacity="0.36"/>
<ellipse cx="331.3" cy="173.4" rx="0.9" ry="2.0" fill="url(#faint)" opacity="0.33"/>
<ellipse cx="333.6" cy="173.4" rx="0.9" ry="2.0" fill="url(#faint)" opacity="0.31"/>
<ellipse cx="335.9" cy="173.4" rx="0.9" ry="2.0" fill="url(#faint)" opacity="0.29"/>
<ellipse cx="338.2" cy="173.4" rx="0.9" ry="2.0" fill="url(#faint)" opacity="0.27"/>
<ellipse cx="340.5" cy="173.4" rx="0.9" ry="2.0" fill="url(#faint)" opacity="0.25"/>
<ellipse cx="342.8" cy="173.4" rx="0.9" ry="2.0" fill="url(#faint)" opacity="0.23"/>
<ellipse cx="345.1" cy="173.4" rx="0.9" ry="2.0" fill="url(#faint)" opacity="0.21"/>
<ellipse cx="347.4" cy="173.4" rx="0.9" ry="2.0" fill="url(#faint)" opacity="0.2"/>
<ellipse cx="349.7" cy="173.4" rx="0.9" ry="2.0" fill="url(#faint)" opacity="0.19"/>
<ellipse cx="352" cy="173.4" rx="0.9" ry="2.0" fill="url(#faint)" opacity="0.17"/>
<ellipse cx="354.3" cy="173.4" rx="0.9" ry="2.0" fill="url(#faint)" opacity="0.16"/>
<ellipse cx="356.6" cy="173.4" rx="0.9" ry="2.0" fill="url(#faint)" opacity="0.15"/>
<ellipse cx="358.9" cy="173.4" rx="0.9" ry="2.0" fill="url(#faint)" opacity="0.14"/>
<ellipse cx="361.2" cy="173.4" rx="0.9" ry="2.0" fill="url(#faint)" opacity="0.13"/>
<ellipse cx="363.5" cy="173.4" rx="0.9" ry="2.0" fill="url(#faint)" opacity="0.12"/>
<ellipse cx="365.8" cy="173.4" rx="0.9" ry="2.0" fill="url(#faint)" opacity="0.11"/>
<ellipse cx="368.1" cy="173.4" rx="0.9" ry="2.0" fill="url(#faint)" opacity="0.1"/>
<ellipse cx="370.4" cy="173.4" rx="0.9" ry="2.0" fill="url(#faint)" opacity="0.1"/>
<ellipse cx="372.7" cy="173.4" rx="0.9" ry="2.0" fill="url(#faint)" opacity="0.09"/>
<ellipse cx="375" cy="173.4" rx="0.9" ry="2.0" fill="url(#faint)" opacity="0.08"/>
<ellipse cx="377.3" cy="173.4" rx="0.9" ry="2.0" fill="url(#faint)" opacity="0.08"/>
<ellipse cx="379.6" cy="173.4" rx="0.9" ry="2.0" fill="url(#faint)" opacity="0.07"/>
<ellipse cx="381.9" cy="173.4" rx="0.9" ry="2.0" fill="url(#faint)" opacity="0.07"/>
<ellipse cx="384.2" cy="173.4" rx="0.9" ry="2.0" fill="url(#faint)" opacity="0.06"/>
<ellipse cx="386.5" cy="173.4" rx="0.9" ry="2.0" fill="url(#faint)" opacity="0.06"/>
<ellipse cx="388.8" cy="173.4" rx="0.9" ry="2.0" fill="url(#faint)" opacity="0.05"/>
<ellipse cx="391.1" cy="173.4" rx="0.9" ry="2.0" fill="url(#faint)" opacity="0.05"/>
<ellipse cx="393.4" cy="173.4" rx="0.9" ry="2.0" fill="url(#faint)" opacity="0.05"/>
<ellipse cx="395.7" cy="173.4" rx="0.9" ry="2.0" fill="url(#faint)" opacity="0.04"/>
<ellipse cx="398" cy="173.4" rx="0.9" ry="2.0" fill="url(#faint)" opacity="0.04"/>
<ellipse cx="326" cy="161" rx="2.2" ry="0.9" fill="url(#faint)" opacity="0.14"/>
<ellipse cx="326" cy="158.4" rx="2.2" ry="0.9" fill="url(#faint)" opacity="0.12"/>
<ellipse cx="326" cy="155.8" rx="2.2" ry="0.9" fill="url(#faint)" opacity="0.1"/>
<ellipse cx="326" cy="153.2" rx="2.2" ry="0.9" fill="url(#faint)" opacity="0.09"/>
<ellipse cx="326" cy="150.6" rx="2.2" ry="0.9" fill="url(#faint)" opacity="0.07"/>
<ellipse cx="326" cy="148" rx="2.2" ry="0.9" fill="url(#faint)" opacity="0.06"/>
<ellipse cx="326" cy="145.4" rx="2.2" ry="0.9" fill="url(#faint)" opacity="0.05"/>
<ellipse cx="326" cy="142.8" rx="2.2" ry="0.9" fill="url(#faint)" opacity="0.04"/>
<ellipse cx="326" cy="140.2" rx="2.2" ry="0.9" fill="url(#faint)" opacity="0.04"/>
<ellipse cx="326" cy="193" rx="2.2" ry="0.9" fill="url(#faint)" opacity="0.14"/>
<ellipse cx="326" cy="195.6" rx="2.2" ry="0.9" fill="url(#faint)" opacity="0.12"/>
<ellipse cx="326" cy="198.2" rx="2.2" ry="0.9" fill="url(#faint)" opacity="0.11"/>
<ellipse cx="326" cy="200.8" rx="2.2" ry="0.9" fill="url(#faint)" opacity="0.09"/>
<ellipse cx="326" cy="203.4" rx="2.2" ry="0.9" fill="url(#faint)" opacity="0.08"/>
<ellipse cx="326" cy="206" rx="2.2" ry="0.9" fill="url(#faint)" opacity="0.07"/>
<ellipse cx="326" cy="208.6" rx="2.2" ry="0.9" fill="url(#faint)" opacity="0.06"/>
<ellipse cx="326" cy="211.2" rx="2.2" ry="0.9" fill="url(#faint)" opacity="0.06"/>
<ellipse cx="326" cy="213.8" rx="2.2" ry="0.9" fill="url(#faint)" opacity="0.05"/>
<ellipse cx="326" cy="216.4" rx="2.2" ry="0.9" fill="url(#faint)" opacity="0.04"/>
<ellipse cx="326" cy="219" rx="2.2" ry="0.9" fill="url(#faint)" opacity="0.04"/>
<ellipse cx="322" cy="189.3" rx="0.9" ry="2.0" fill="url(#faint)" opacity="0.19"/>
<ellipse cx="319.7" cy="189.3" rx="0.9" ry="2.0" fill="url(#faint)" opacity="0.17"/>
<ellipse cx="317.4" cy="189.3" rx="0.9" ry="2.0" fill="url(#faint)" opacity="0.15"/>
<ellipse cx="315.1" cy="189.3" rx="0.9" ry="2.0" fill="url(#faint)" opacity="0.13"/>
<ellipse cx="312.8" cy="189.3" rx="0.9" ry="2.0" fill="url(#faint)" opacity="0.11"/>
<ellipse cx="310.5" cy="189.3" rx="0.9" ry="2.0" fill="url(#faint)" opacity="0.1"/>
<ellipse cx="308.2" cy="189.3" rx="0.9" ry="2.0" fill="url(#faint)" opacity="0.09"/>
<ellipse cx="305.9" cy="189.3" rx="0.9" ry="2.0" fill="url(#faint)" opacity="0.08"/>
<ellipse cx="303.6" cy="189.3" rx="0.9" ry="2.0" fill="url(#faint)" opacity="0.07"/>
<ellipse cx="301.3" cy="189.3" rx="0.9" ry="2.0" fill="url(#faint)" opacity="0.06"/>
<ellipse cx="329" cy="189.3" rx="0.9" ry="2.0" fill="url(#faint)" opacity="0.19"/>
<ellipse cx="331.3" cy="189.3" rx="0.9" ry="2.0" fill="url(#faint)" opacity="0.17"/>
<ellipse cx="333.6" cy="189.3" rx="0.9" ry="2.0" fill="url(#faint)" opacity="0.15"/>
<ellipse cx="335.9" cy="189.3" rx="0.9" ry="2.0" fill="url(#faint)" opacity="0.13"/>
<ellipse cx="338.2" cy="189.3" rx="0.9" ry="2.0" fill="url(#faint)" opacity="0.11"/>
<ellipse cx="340.5" cy="189.3" rx="0.9" ry="2.0" fill="url(#faint)" opacity="0.1"/>
<ellipse cx="342.8" cy="189.3" rx="0.9" ry="2.0" fill="url(#faint)" opacity="0.09"/>
<ellipse cx="345.1" cy="189.3" rx="0.9" ry="2.0" fill="url(#faint)" opacity="0.08"/>
<ellipse cx="347.4" cy="189.3" rx="0.9" ry="2.0" fill="url(#faint)" opacity="0.07"/>
<ellipse cx="349.7" cy="189.3" rx="0.9" ry="2.0" fill="url(#faint)" opacity="0.06"/>
<ellipse cx="367.5" cy="173.5" rx="40.3" ry="10.54" fill="url(#st)" opacity=".16"/>
<circle cx="377.08" cy="170.09" r="1.01" fill="url(#faint)" opacity="0.3"/>
<circle cx="336.81" cy="168.21" r="1.31" fill="url(#faint)" opacity="0.2"/>
<circle cx="340.54" cy="176.23" r="1.03" fill="url(#faint)" opacity="0.23"/>
<circle cx="362.06" cy="174.01" r="1.21" fill="url(#faint)" opacity="0.19"/>
<circle cx="342.43" cy="168.07" r="1.5" fill="url(#faint)" opacity="0.22"/>
<circle cx="342.3" cy="179.66" r="0.93" fill="url(#faint)" opacity="0.11"/>
<circle cx="369.5" cy="169.28" r="1.14" fill="url(#faint)" opacity="0.22"/>
<circle cx="349.73" cy="174.74" r="0.8" fill="url(#faint)" opacity="0.21"/>
<circle cx="373.25" cy="166.36" r="1.07" fill="url(#faint)" opacity="0.11"/>
<circle cx="363.57" cy="179.68" r="1.2" fill="url(#faint)" opacity="0.26"/>
<circle cx="384.2" cy="166.95" r="1.59" fill="url(#faint)" opacity="0.26"/>
<circle cx="341.64" cy="179.11" r="1.05" fill="url(#faint)" opacity="0.13"/>
<circle cx="397.4" cy="174.57" r="1.4" fill="url(#faint)" opacity="0.12"/>
<circle cx="385.45" cy="165.98" r="0.91" fill="url(#faint)" opacity="0.18"/>
<circle cx="335.99" cy="175.1" r="0.89" fill="url(#faint)" opacity="0.16"/>
<circle cx="380.98" cy="172.24" r="1.5" fill="url(#faint)" opacity="0.24"/>
<circle cx="391.69" cy="174.57" r="1.53" fill="url(#faint)" opacity="0.3"/>
<circle cx="345.92" cy="177.67" r="1.01" fill="url(#faint)" opacity="0.27"/>
<circle cx="379.23" cy="179.04" r="0.81" fill="url(#faint)" opacity="0.18"/>
<circle cx="382.92" cy="181.12" r="1.35" fill="url(#faint)" opacity="0.1"/>
<circle cx="374.25" cy="166.69" r="1.19" fill="url(#faint)" opacity="0.28"/>
<circle cx="342.34" cy="180.73" r="1.31" fill="url(#faint)" opacity="0.15"/>
<circle cx="347.55" cy="172.6" r="1.45" fill="url(#faint)" opacity="0.23"/>
<circle cx="342.38" cy="165.36" r="0.8" fill="url(#faint)" opacity="0.28"/>
<circle cx="347.04" cy="174.42" r="0.96" fill="url(#faint)" opacity="0.25"/>
<circle cx="359.75" cy="167.45" r="1.49" fill="url(#faint)" opacity="0.22"/>
<circle cx="379.82" cy="178.74" r="1.55" fill="url(#faint)" opacity="0.09"/>
<circle cx="357.25" cy="167.57" r="1.15" fill="url(#faint)" opacity="0.3"/>
<circle cx="387.03" cy="165.6" r="0.86" fill="url(#faint)" opacity="0.29"/>
<circle cx="379.17" cy="171.67" r="1.13" fill="url(#faint)" opacity="0.13"/>
<circle cx="389.93" cy="171.69" r="1.49" fill="url(#faint)" opacity="0.24"/>
<circle cx="339.93" cy="170.6" r="0.89" fill="url(#faint)" opacity="0.3"/>
<circle cx="373.3" cy="165.74" r="0.85" fill="url(#faint)" opacity="0.18"/>
<circle cx="365.4" cy="174.81" r="1.05" fill="url(#faint)" opacity="0.17"/>
<circle cx="335.39" cy="174.85" r="1" fill="url(#faint)" opacity="0.09"/>
<circle cx="364.86" cy="181.77" r="0.74" fill="url(#faint)" opacity="0.12"/>
<circle cx="378.61" cy="169.64" r="0.95" fill="url(#faint)" opacity="0.21"/>
<circle cx="352.03" cy="174.67" r="1.18" fill="url(#faint)" opacity="0.32"/>
<circle cx="399.49" cy="165.58" r="1.2" fill="url(#faint)" opacity="0.28"/>
<circle cx="391.7" cy="178.16" r="1.27" fill="url(#faint)" opacity="0.24"/>
<circle cx="358.59" cy="169.79" r="1.42" fill="url(#faint)" opacity="0.3"/>
<circle cx="396.01" cy="176.58" r="0.97" fill="url(#faint)" opacity="0.27"/>
<circle cx="383.07" cy="173.65" r="1.27" fill="url(#faint)" opacity="0.17"/>
<circle cx="370.8" cy="171.9" r="0.75" fill="url(#faint)" opacity="0.17"/>
<ellipse cx="326" cy="173.4" rx="4" ry="5" fill="url(#halo)" opacity="0.7"/>
<ellipse cx="325.8" cy="180" rx="2.6" ry="13" fill="url(#halo)" opacity="0.5"/>
<ellipse cx="326.1" cy="173.4" rx="3.1" ry="2.9" fill="url(#hot)"/>
<ellipse cx="325.4" cy="189.3" rx="2.9" ry="2.6" fill="url(#cyan)"/>
<ellipse cx="326.2" cy="164.6" rx="2.6" ry="1.9" fill="url(#cool)"/>
<ellipse cx="326.2" cy="168.6" rx="2.8" ry="2" fill="url(#cool)"/>
<ellipse cx="325.7" cy="177.8" rx="2.4" ry="1.8" fill="url(#cool)"/>
<ellipse cx="325.4" cy="181.2" rx="2.8" ry="2" fill="url(#cool)"/>
<ellipse cx="325.4" cy="185" rx="2.8" ry="2" fill="url(#cool)"/>
<ellipse cx="326" cy="160.5" rx="2.4" ry="1.8" fill="url(#faint)"/>
<ellipse cx="326" cy="157" rx="2.2" ry="1.6" fill="url(#faint)"/>
<ellipse cx="325.6" cy="193.6" rx="2.4" ry="1.8" fill="url(#faint)"/>
</g>
<text x="343.6" y="144.7" font-size="11" fill="#FFF200" text-anchor="middle"># 104</text>
<text x="287.6" y="133.8" font-size="3.4" fill="#000" stroke="#000" stroke-width=".16" text-anchor="end">-1.5</text>
<text x="287.6" y="148.85" font-size="3.4" fill="#000" stroke="#000" stroke-width=".16" text-anchor="end">-1</text>
<text x="287.6" y="163.9" font-size="3.4" fill="#000" stroke="#000" stroke-width=".16" text-anchor="end">-0.5</text>
<text x="287.6" y="178.95" font-size="3.4" fill="#000" stroke="#000" stroke-width=".16" text-anchor="end">0</text>
<text x="287.6" y="194" font-size="3.4" fill="#000" stroke="#000" stroke-width=".16" text-anchor="end">0.5</text>
<text x="287.6" y="209.05" font-size="3.4" fill="#000" stroke="#000" stroke-width=".16" text-anchor="end">1</text>
<text x="287.6" y="224.1" font-size="3.4" fill="#000" stroke="#000" stroke-width=".16" text-anchor="end">1.5</text>
<text x="289.5" y="228.2" font-size="3.4" fill="#000" stroke="#000" stroke-width=".16" text-anchor="middle">0</text>
<text x="312.6" y="228.2" font-size="3.4" fill="#000" stroke="#000" stroke-width=".16" text-anchor="middle">1</text>
<text x="335.7" y="228.2" font-size="3.4" fill="#000" stroke="#000" stroke-width=".16" text-anchor="middle">2</text>
<text x="358.8" y="228.2" font-size="3.4" fill="#000" stroke="#000" stroke-width=".16" text-anchor="middle">3</text>
<text x="381.9" y="228.2" font-size="3.4" fill="#000" stroke="#000" stroke-width=".16" text-anchor="middle">4</text>
<text x="405" y="228.2" font-size="3.4" fill="#000" stroke="#000" stroke-width=".16" text-anchor="middle">5</text>
<text x="347.45" y="234.8" font-size="5.7" fill="#0a0a0a" stroke="#0a0a0a" stroke-width=".2" text-anchor="middle">Range (m)</text>
<text transform="translate(280.1 177.8) rotate(-90)" font-size="5.7" fill="#0a0a0a" stroke="#0a0a0a" stroke-width=".2" text-anchor="middle">Speed (m/s)</text>
<g clip-path="url(#c7)">
<rect x="428.8" y="131.1" width="115.8" height="90.5" fill="#3E26A8"/>
<ellipse cx="480.8" cy="197.5" rx="3" ry="47.5" fill="url(#st)" opacity="0.13"/>
<ellipse cx="460" cy="198" rx="60" ry="2.6" fill="url(#st)" opacity="0.24"/>
<ellipse cx="490" cy="177.6" rx="110" ry="1.3" fill="url(#st)" opacity="0.14"/>
<ellipse cx="475" cy="180" rx="1.8" ry="25" fill="url(#st)" opacity="0.09"/>
<ellipse cx="525" cy="190" rx="55" ry="22.1" fill="url(#st)" opacity="0.08"/>
<ellipse cx="476" cy="198" rx="0.9" ry="2.0" fill="url(#faint)" opacity="0.34"/>
<ellipse cx="473.7" cy="198" rx="0.9" ry="2.0" fill="url(#faint)" opacity="0.32"/>
<ellipse cx="471.4" cy="198" rx="0.9" ry="2.0" fill="url(#faint)" opacity="0.3"/>
<ellipse cx="469.1" cy="198" rx="0.9" ry="2.0" fill="url(#faint)" opacity="0.29"/>
<ellipse cx="466.8" cy="198" rx="0.9" ry="2.0" fill="url(#faint)" opacity="0.27"/>
<ellipse cx="464.5" cy="198" rx="0.9" ry="2.0" fill="url(#faint)" opacity="0.26"/>
<ellipse cx="462.2" cy="198" rx="0.9" ry="2.0" fill="url(#faint)" opacity="0.25"/>
<ellipse cx="459.9" cy="198" rx="0.9" ry="2.0" fill="url(#faint)" opacity="0.23"/>
<ellipse cx="457.6" cy="198" rx="0.9" ry="2.0" fill="url(#faint)" opacity="0.22"/>
<ellipse cx="455.3" cy="198" rx="0.9" ry="2.0" fill="url(#faint)" opacity="0.21"/>
<ellipse cx="453" cy="198" rx="0.9" ry="2.0" fill="url(#faint)" opacity="0.2"/>
<ellipse cx="450.7" cy="198" rx="0.9" ry="2.0" fill="url(#faint)" opacity="0.19"/>
<ellipse cx="448.4" cy="198" rx="0.9" ry="2.0" fill="url(#faint)" opacity="0.18"/>
<ellipse cx="446.1" cy="198" rx="0.9" ry="2.0" fill="url(#faint)" opacity="0.17"/>
<ellipse cx="443.8" cy="198" rx="0.9" ry="2.0" fill="url(#faint)" opacity="0.16"/>
<ellipse cx="441.5" cy="198" rx="0.9" ry="2.0" fill="url(#faint)" opacity="0.16"/>
<ellipse cx="439.2" cy="198" rx="0.9" ry="2.0" fill="url(#faint)" opacity="0.15"/>
<ellipse cx="436.9" cy="198" rx="0.9" ry="2.0" fill="url(#faint)" opacity="0.14"/>
<ellipse cx="434.6" cy="198" rx="0.9" ry="2.0" fill="url(#faint)" opacity="0.13"/>
<ellipse cx="432.3" cy="198" rx="0.9" ry="2.0" fill="url(#faint)" opacity="0.13"/>
<ellipse cx="485" cy="198" rx="0.9" ry="2.0" fill="url(#faint)" opacity="0.21"/>
<ellipse cx="487.3" cy="198" rx="0.9" ry="2.0" fill="url(#faint)" opacity="0.19"/>
<ellipse cx="489.6" cy="198" rx="0.9" ry="2.0" fill="url(#faint)" opacity="0.17"/>
<ellipse cx="491.9" cy="198" rx="0.9" ry="2.0" fill="url(#faint)" opacity="0.15"/>
<ellipse cx="494.2" cy="198" rx="0.9" ry="2.0" fill="url(#faint)" opacity="0.14"/>
<ellipse cx="496.5" cy="198" rx="0.9" ry="2.0" fill="url(#faint)" opacity="0.12"/>
<ellipse cx="498.8" cy="198" rx="0.9" ry="2.0" fill="url(#faint)" opacity="0.11"/>
<ellipse cx="501.1" cy="198" rx="0.9" ry="2.0" fill="url(#faint)" opacity="0.1"/>
<ellipse cx="503.4" cy="198" rx="0.9" ry="2.0" fill="url(#faint)" opacity="0.09"/>
<ellipse cx="505.7" cy="198" rx="0.9" ry="2.0" fill="url(#faint)" opacity="0.08"/>
<ellipse cx="508" cy="198" rx="0.9" ry="2.0" fill="url(#faint)" opacity="0.07"/>
<ellipse cx="510.3" cy="198" rx="0.9" ry="2.0" fill="url(#faint)" opacity="0.07"/>
<ellipse cx="512.6" cy="198" rx="0.9" ry="2.0" fill="url(#faint)" opacity="0.06"/>
<ellipse cx="514.9" cy="198" rx="0.9" ry="2.0" fill="url(#faint)" opacity="0.05"/>
<ellipse cx="517.2" cy="198" rx="0.9" ry="2.0" fill="url(#faint)" opacity="0.05"/>
<ellipse cx="519.5" cy="198" rx="0.9" ry="2.0" fill="url(#faint)" opacity="0.04"/>
<ellipse cx="480.8" cy="206" rx="2.2" ry="0.9" fill="url(#faint)" opacity="0.12"/>
<ellipse cx="480.8" cy="208.6" rx="2.2" ry="0.9" fill="url(#faint)" opacity="0.1"/>
<ellipse cx="480.8" cy="211.2" rx="2.2" ry="0.9" fill="url(#faint)" opacity="0.09"/>
<ellipse cx="480.8" cy="213.8" rx="2.2" ry="0.9" fill="url(#faint)" opacity="0.08"/>
<ellipse cx="480.8" cy="216.4" rx="2.2" ry="0.9" fill="url(#faint)" opacity="0.08"/>
<ellipse cx="480.8" cy="219" rx="2.2" ry="0.9" fill="url(#faint)" opacity="0.07"/>
<ellipse cx="480.8" cy="172" rx="2.2" ry="0.9" fill="url(#faint)" opacity="0.1"/>
<ellipse cx="480.8" cy="169.4" rx="2.2" ry="0.9" fill="url(#faint)" opacity="0.09"/>
<ellipse cx="480.8" cy="166.8" rx="2.2" ry="0.9" fill="url(#faint)" opacity="0.08"/>
<ellipse cx="480.8" cy="164.2" rx="2.2" ry="0.9" fill="url(#faint)" opacity="0.07"/>
<ellipse cx="480.8" cy="161.6" rx="2.2" ry="0.9" fill="url(#faint)" opacity="0.06"/>
<ellipse cx="480.8" cy="159" rx="2.2" ry="0.9" fill="url(#faint)" opacity="0.05"/>
<ellipse cx="480.8" cy="156.4" rx="2.2" ry="0.9" fill="url(#faint)" opacity="0.05"/>
<ellipse cx="480.8" cy="153.8" rx="2.2" ry="0.9" fill="url(#faint)" opacity="0.04"/>
<ellipse cx="480.8" cy="151.2" rx="2.2" ry="0.9" fill="url(#faint)" opacity="0.04"/>
<ellipse cx="480.8" cy="148.6" rx="2.2" ry="0.9" fill="url(#faint)" opacity="0.03"/>
<ellipse cx="480.8" cy="146" rx="2.2" ry="0.9" fill="url(#faint)" opacity="0.03"/>
<ellipse cx="480.8" cy="143.4" rx="2.2" ry="0.9" fill="url(#faint)" opacity="0.03"/>
<ellipse cx="480.8" cy="140.8" rx="2.2" ry="0.9" fill="url(#faint)" opacity="0.02"/>
<ellipse cx="515" cy="199.5" rx="37.2" ry="26.66" fill="url(#st)" opacity=".16"/>
<circle cx="504.39" cy="220.5" r="1.13" fill="url(#faint)" opacity="0.3"/>
<circle cx="499.61" cy="188.1" r="1.01" fill="url(#faint)" opacity="0.2"/>
<circle cx="485.43" cy="215.45" r="1.11" fill="url(#faint)" opacity="0.33"/>
<circle cx="519.12" cy="191" r="0.85" fill="url(#faint)" opacity="0.18"/>
<circle cx="503.09" cy="191.27" r="1.35" fill="url(#faint)" opacity="0.37"/>
<circle cx="541.25" cy="192.64" r="1.53" fill="url(#faint)" opacity="0.38"/>
<circle cx="489.8" cy="185.69" r="1.22" fill="url(#faint)" opacity="0.54"/>
<circle cx="506.42" cy="211.3" r="1.09" fill="url(#faint)" opacity="0.5"/>
<circle cx="489.06" cy="198.83" r="1.51" fill="url(#faint)" opacity="0.26"/>
<circle cx="500.45" cy="178.99" r="0.85" fill="url(#faint)" opacity="0.26"/>
<circle cx="527.26" cy="187.39" r="1.06" fill="url(#faint)" opacity="0.23"/>
<circle cx="521.17" cy="215.16" r="1.28" fill="url(#faint)" opacity="0.23"/>
<circle cx="529.03" cy="219.42" r="1.24" fill="url(#faint)" opacity="0.18"/>
<circle cx="533.57" cy="215.65" r="1.01" fill="url(#faint)" opacity="0.2"/>
<circle cx="496.29" cy="201.09" r="1.49" fill="url(#faint)" opacity="0.41"/>
<circle cx="540.37" cy="187.13" r="0.99" fill="url(#faint)" opacity="0.45"/>
<circle cx="523.94" cy="195.43" r="1.31" fill="url(#faint)" opacity="0.29"/>
<circle cx="488.45" cy="195.81" r="0.74" fill="url(#faint)" opacity="0.4"/>
<circle cx="505.07" cy="199.26" r="1.24" fill="url(#faint)" opacity="0.25"/>
<circle cx="512.8" cy="178.58" r="1.53" fill="url(#faint)" opacity="0.38"/>
<circle cx="544.25" cy="180.41" r="1.25" fill="url(#faint)" opacity="0.44"/>
<circle cx="504.75" cy="182.02" r="0.84" fill="url(#faint)" opacity="0.21"/>
<circle cx="531.03" cy="181.86" r="1.43" fill="url(#faint)" opacity="0.32"/>
<circle cx="517.32" cy="203.31" r="1.2" fill="url(#faint)" opacity="0.41"/>
<circle cx="521.09" cy="192.23" r="1.37" fill="url(#faint)" opacity="0.25"/>
<circle cx="527.69" cy="210.82" r="1.4" fill="url(#faint)" opacity="0.27"/>
<circle cx="531.36" cy="220.03" r="1.11" fill="url(#faint)" opacity="0.26"/>
<circle cx="516.4" cy="218.46" r="0.82" fill="url(#faint)" opacity="0.15"/>
<circle cx="513.55" cy="206.18" r="1.4" fill="url(#faint)" opacity="0.29"/>
<circle cx="544.37" cy="187.81" r="1.38" fill="url(#faint)" opacity="0.19"/>
<circle cx="486.68" cy="183.77" r="0.75" fill="url(#faint)" opacity="0.35"/>
<circle cx="518.31" cy="185.82" r="1.55" fill="url(#faint)" opacity="0.3"/>
<circle cx="493.96" cy="185.63" r="1.36" fill="url(#faint)" opacity="0.52"/>
<circle cx="494.72" cy="179.25" r="1.4" fill="url(#faint)" opacity="0.25"/>
<circle cx="543.94" cy="199.45" r="1.27" fill="url(#faint)" opacity="0.29"/>
<circle cx="533.03" cy="197.78" r="0.99" fill="url(#faint)" opacity="0.51"/>
<circle cx="491.47" cy="209.54" r="0.76" fill="url(#faint)" opacity="0.41"/>
<circle cx="509.11" cy="215.15" r="0.75" fill="url(#faint)" opacity="0.38"/>
<circle cx="509.6" cy="217.52" r="1.55" fill="url(#faint)" opacity="0.4"/>
<circle cx="498.44" cy="188.83" r="0.94" fill="url(#faint)" opacity="0.32"/>
<circle cx="498.88" cy="186.74" r="1.38" fill="url(#faint)" opacity="0.41"/>
<circle cx="502.91" cy="220.76" r="0.89" fill="url(#faint)" opacity="0.38"/>
<circle cx="494.4" cy="215.11" r="1.48" fill="url(#faint)" opacity="0.26"/>
<circle cx="530.09" cy="213.38" r="0.95" fill="url(#faint)" opacity="0.28"/>
<circle cx="514.13" cy="216.31" r="0.85" fill="url(#faint)" opacity="0.42"/>
<circle cx="520.86" cy="197.48" r="1.22" fill="url(#faint)" opacity="0.5"/>
<circle cx="497.59" cy="215.99" r="1.02" fill="url(#faint)" opacity="0.46"/>
<circle cx="536.8" cy="185.84" r="1.48" fill="url(#faint)" opacity="0.55"/>
<circle cx="502.86" cy="179.05" r="0.8" fill="url(#faint)" opacity="0.54"/>
<circle cx="485.57" cy="217.2" r="0.84" fill="url(#faint)" opacity="0.44"/>
<circle cx="490.85" cy="185.26" r="1.31" fill="url(#faint)" opacity="0.19"/>
<circle cx="505.37" cy="217.5" r="1.34" fill="url(#faint)" opacity="0.5"/>
<circle cx="543.78" cy="179.42" r="0.91" fill="url(#faint)" opacity="0.47"/>
<circle cx="526.37" cy="179.63" r="1.15" fill="url(#faint)" opacity="0.24"/>
<circle cx="510.83" cy="182.51" r="0.72" fill="url(#faint)" opacity="0.55"/>
<circle cx="503.99" cy="215.78" r="0.81" fill="url(#faint)" opacity="0.34"/>
<circle cx="493.15" cy="196.42" r="0.86" fill="url(#faint)" opacity="0.42"/>
<circle cx="493.88" cy="209.74" r="1.15" fill="url(#faint)" opacity="0.19"/>
<circle cx="506.21" cy="199.34" r="1.53" fill="url(#faint)" opacity="0.29"/>
<circle cx="497.91" cy="219.6" r="1.49" fill="url(#faint)" opacity="0.44"/>
<circle cx="501.38" cy="185.62" r="0.94" fill="url(#faint)" opacity="0.18"/>
<circle cx="487.59" cy="199.88" r="1.07" fill="url(#faint)" opacity="0.37"/>
<circle cx="506.76" cy="178.46" r="1.32" fill="url(#faint)" opacity="0.41"/>
<circle cx="517.64" cy="201.6" r="1.32" fill="url(#faint)" opacity="0.54"/>
<circle cx="537.44" cy="208.86" r="1.06" fill="url(#faint)" opacity="0.28"/>
<circle cx="510.15" cy="219.84" r="1.05" fill="url(#faint)" opacity="0.3"/>
<circle cx="509.6" cy="184.15" r="1.6" fill="url(#faint)" opacity="0.15"/>
<circle cx="521.47" cy="217.83" r="0.93" fill="url(#faint)" opacity="0.39"/>
<circle cx="507.62" cy="188.35" r="0.88" fill="url(#faint)" opacity="0.2"/>
<circle cx="535.58" cy="211.71" r="1.52" fill="url(#faint)" opacity="0.17"/>
<circle cx="526.65" cy="191.95" r="1.28" fill="url(#faint)" opacity="0.37"/>
<circle cx="503.94" cy="219.78" r="0.7" fill="url(#faint)" opacity="0.45"/>
<circle cx="536.21" cy="199.94" r="1.23" fill="url(#faint)" opacity="0.55"/>
<circle cx="499.07" cy="205.07" r="1.37" fill="url(#faint)" opacity="0.3"/>
<circle cx="527.73" cy="194.92" r="1.17" fill="url(#faint)" opacity="0.4"/>
<circle cx="525.63" cy="191.85" r="1.27" fill="url(#faint)" opacity="0.37"/>
<circle cx="498.4" cy="204.34" r="0.94" fill="url(#faint)" opacity="0.51"/>
<circle cx="513.4" cy="209.03" r="1.17" fill="url(#faint)" opacity="0.34"/>
<circle cx="498.27" cy="184.11" r="1.53" fill="url(#faint)" opacity="0.36"/>
<circle cx="516.44" cy="200.68" r="1.43" fill="url(#faint)" opacity="0.25"/>
<circle cx="495.34" cy="213.34" r="1.11" fill="url(#faint)" opacity="0.41"/>
<circle cx="534.65" cy="216.44" r="1.48" fill="url(#faint)" opacity="0.17"/>
<circle cx="507.88" cy="213.78" r="1.44" fill="url(#faint)" opacity="0.2"/>
<circle cx="494.23" cy="188.81" r="0.79" fill="url(#faint)" opacity="0.29"/>
<circle cx="533.19" cy="200.42" r="1.11" fill="url(#faint)" opacity="0.19"/>
<circle cx="508.73" cy="220.87" r="1.33" fill="url(#faint)" opacity="0.33"/>
<circle cx="513.7" cy="212.33" r="1.38" fill="url(#faint)" opacity="0.21"/>
<circle cx="525.81" cy="193.78" r="1.17" fill="url(#faint)" opacity="0.25"/>
<circle cx="507.25" cy="192.62" r="1.04" fill="url(#faint)" opacity="0.16"/>
<circle cx="497.05" cy="202.53" r="0.75" fill="url(#faint)" opacity="0.22"/>
<circle cx="528.09" cy="189.81" r="0.99" fill="url(#faint)" opacity="0.25"/>
<circle cx="535.05" cy="181.93" r="1.27" fill="url(#faint)" opacity="0.49"/>
<circle cx="497.1" cy="196.2" r="1.41" fill="url(#faint)" opacity="0.4"/>
<circle cx="507.3" cy="179.89" r="1.1" fill="url(#faint)" opacity="0.3"/>
<circle cx="527.75" cy="190.7" r="1.07" fill="url(#faint)" opacity="0.41"/>
<circle cx="533.65" cy="193.15" r="1.05" fill="url(#faint)" opacity="0.38"/>
<circle cx="540.49" cy="186.24" r="1.57" fill="url(#faint)" opacity="0.43"/>
<circle cx="507.34" cy="206.62" r="1" fill="url(#faint)" opacity="0.18"/>
<circle cx="530.36" cy="194.31" r="1.17" fill="url(#faint)" opacity="0.35"/>
<circle cx="539.08" cy="210.55" r="0.72" fill="url(#faint)" opacity="0.39"/>
<circle cx="512.75" cy="197.87" r="1.46" fill="url(#faint)" opacity="0.32"/>
<circle cx="513.42" cy="216.29" r="1.1" fill="url(#faint)" opacity="0.35"/>
<circle cx="515.71" cy="213.46" r="1.3" fill="url(#faint)" opacity="0.45"/>
<circle cx="509.1" cy="179.75" r="1.31" fill="url(#faint)" opacity="0.37"/>
<circle cx="531.15" cy="211.1" r="0.81" fill="url(#faint)" opacity="0.24"/>
<circle cx="489.63" cy="213.15" r="0.79" fill="url(#faint)" opacity="0.19"/>
<circle cx="530.2" cy="202.27" r="0.75" fill="url(#faint)" opacity="0.42"/>
<circle cx="527.66" cy="198.76" r="0.75" fill="url(#faint)" opacity="0.43"/>
<circle cx="510.08" cy="203.11" r="1.6" fill="url(#faint)" opacity="0.48"/>
<circle cx="537.32" cy="184.26" r="1" fill="url(#faint)" opacity="0.36"/>
<circle cx="485.36" cy="220.51" r="0.95" fill="url(#faint)" opacity="0.25"/>
<circle cx="503.78" cy="188.97" r="1.47" fill="url(#faint)" opacity="0.37"/>
<circle cx="515.66" cy="196.07" r="0.75" fill="url(#faint)" opacity="0.27"/>
<circle cx="537.01" cy="212.48" r="1.47" fill="url(#faint)" opacity="0.25"/>
<circle cx="497.12" cy="180.24" r="1.18" fill="url(#faint)" opacity="0.3"/>
<circle cx="512.85" cy="199.03" r="1.23" fill="url(#faint)" opacity="0.3"/>
<circle cx="533.09" cy="186.61" r="1.53" fill="url(#faint)" opacity="0.37"/>
<circle cx="488.07" cy="191.51" r="1.18" fill="url(#faint)" opacity="0.31"/>
<circle cx="518.9" cy="191.91" r="0.95" fill="url(#faint)" opacity="0.47"/>
<circle cx="502.49" cy="208.55" r="1.42" fill="url(#faint)" opacity="0.39"/>
<circle cx="512.28" cy="218.2" r="1.1" fill="url(#faint)" opacity="0.5"/>
<circle cx="488.46" cy="196.65" r="1.28" fill="url(#faint)" opacity="0.17"/>
<circle cx="536.76" cy="181.09" r="1.24" fill="url(#faint)" opacity="0.22"/>
<circle cx="540.34" cy="202.13" r="1.42" fill="url(#faint)" opacity="0.35"/>
<circle cx="525.43" cy="207.02" r="0.97" fill="url(#faint)" opacity="0.23"/>
<circle cx="535.3" cy="184.27" r="1.53" fill="url(#faint)" opacity="0.23"/>
<circle cx="491.05" cy="182.1" r="1.41" fill="url(#faint)" opacity="0.53"/>
<circle cx="509.88" cy="206.33" r="0.93" fill="url(#faint)" opacity="0.51"/>
<circle cx="526.15" cy="184.66" r="0.75" fill="url(#faint)" opacity="0.43"/>
<circle cx="487.51" cy="213.95" r="0.96" fill="url(#faint)" opacity="0.24"/>
<circle cx="519.92" cy="191.71" r="1.2" fill="url(#faint)" opacity="0.21"/>
<circle cx="539.71" cy="191.95" r="1.46" fill="url(#faint)" opacity="0.21"/>
<circle cx="532.96" cy="220.14" r="1.05" fill="url(#faint)" opacity="0.16"/>
<circle cx="507.8" cy="205.55" r="0.9" fill="url(#faint)" opacity="0.37"/>
<circle cx="490.62" cy="197.97" r="1.36" fill="url(#faint)" opacity="0.32"/>
<circle cx="525.73" cy="182.92" r="1.45" fill="url(#faint)" opacity="0.2"/>
<circle cx="540.4" cy="220.83" r="1.55" fill="url(#faint)" opacity="0.36"/>
<circle cx="502.45" cy="192.96" r="1.38" fill="url(#faint)" opacity="0.35"/>
<circle cx="540.79" cy="182" r="1.14" fill="url(#faint)" opacity="0.5"/>
<circle cx="520.87" cy="201.25" r="0.78" fill="url(#faint)" opacity="0.21"/>
<circle cx="501.27" cy="216.4" r="1.46" fill="url(#faint)" opacity="0.24"/>
<circle cx="540.48" cy="179.39" r="1.24" fill="url(#faint)" opacity="0.54"/>
<circle cx="505.66" cy="218.61" r="1.29" fill="url(#faint)" opacity="0.17"/>
<circle cx="504.99" cy="197.33" r="0.92" fill="url(#faint)" opacity="0.45"/>
<circle cx="495.73" cy="211.87" r="0.97" fill="url(#faint)" opacity="0.18"/>
<circle cx="518.55" cy="182.11" r="1.2" fill="url(#faint)" opacity="0.47"/>
<circle cx="520.74" cy="197.84" r="0.73" fill="url(#faint)" opacity="0.36"/>
<circle cx="490.83" cy="205.81" r="0.82" fill="url(#faint)" opacity="0.38"/>
<circle cx="506.17" cy="194.11" r="1.3" fill="url(#faint)" opacity="0.22"/>
<circle cx="495.18" cy="218.49" r="1" fill="url(#faint)" opacity="0.49"/>
<circle cx="537.41" cy="198.65" r="0.83" fill="url(#faint)" opacity="0.19"/>
<circle cx="537.74" cy="183.03" r="1.15" fill="url(#faint)" opacity="0.36"/>
<circle cx="492.05" cy="198.12" r="0.85" fill="url(#faint)" opacity="0.36"/>
<circle cx="515.41" cy="193.78" r="0.88" fill="url(#faint)" opacity="0.31"/>
<rect x="429" y="175.95" width="116" height="0.9" fill="#2B1A8C" opacity="0.3"/>
<ellipse cx="480.2" cy="197.6" rx="6.4" ry="5.6" fill="url(#halo)" opacity="0.85" transform="rotate(-35 480.2 197.6)"/>
<ellipse cx="480.5" cy="196" rx="11" ry="11" fill="url(#halo)" opacity="0.3"/>
<ellipse cx="482.2" cy="184" rx="3.6" ry="4.2" fill="url(#halo)" opacity="0.6"/>
<ellipse cx="479.3" cy="195.6" rx="2.6" ry="2.4" fill="url(#cyan)"/>
<ellipse cx="481" cy="195" rx="2.4" ry="2.2" fill="url(#cyan)"/>
<ellipse cx="478.2" cy="199.6" rx="2.2" ry="2" fill="url(#cyan)"/>
<ellipse cx="482.6" cy="199" rx="2" ry="2" fill="url(#cyan)"/>
<ellipse cx="480.35" cy="197.7" rx="4.4" ry="2.9" fill="url(#hot)" transform="rotate(-33 480.35 197.7)"/>
<ellipse cx="479.2" cy="198.5" rx="2.6" ry="2.5" fill="url(#hot)"/>
<ellipse cx="481.5" cy="196.9" rx="2.6" ry="2.5" fill="url(#hot)"/>
<ellipse cx="482.4" cy="183.7" rx="2.8" ry="2.8" fill="url(#cyan)"/>
<ellipse cx="475" cy="177.7" rx="2" ry="2" fill="url(#cool)"/>
<ellipse cx="481" cy="203" rx="1.8" ry="2" fill="url(#cool)"/>
<ellipse cx="482.2" cy="176" rx="1.4" ry="1.6" fill="url(#faint)"/>
<ellipse cx="526.5" cy="178" rx="1.8" ry="1.6" fill="url(#cool)"/>
</g>
<text x="483.8" y="144.1" font-size="11" fill="#FFF200" text-anchor="middle"># 134</text>
<text x="426.7" y="132.4" font-size="3.4" fill="#000" stroke="#000" stroke-width=".16" text-anchor="end">-1.5</text>
<text x="426.7" y="147.45" font-size="3.4" fill="#000" stroke="#000" stroke-width=".16" text-anchor="end">-1</text>
<text x="426.7" y="162.5" font-size="3.4" fill="#000" stroke="#000" stroke-width=".16" text-anchor="end">-0.5</text>
<text x="426.7" y="177.55" font-size="3.4" fill="#000" stroke="#000" stroke-width=".16" text-anchor="end">0</text>
<text x="426.7" y="192.6" font-size="3.4" fill="#000" stroke="#000" stroke-width=".16" text-anchor="end">0.5</text>
<text x="426.7" y="207.65" font-size="3.4" fill="#000" stroke="#000" stroke-width=".16" text-anchor="end">1</text>
<text x="426.7" y="222.7" font-size="3.4" fill="#000" stroke="#000" stroke-width=".16" text-anchor="end">1.5</text>
<text x="428.6" y="226.7" font-size="3.4" fill="#000" stroke="#000" stroke-width=".16" text-anchor="middle">0</text>
<text x="451.76" y="226.7" font-size="3.4" fill="#000" stroke="#000" stroke-width=".16" text-anchor="middle">1</text>
<text x="474.92" y="226.7" font-size="3.4" fill="#000" stroke="#000" stroke-width=".16" text-anchor="middle">2</text>
<text x="498.08" y="226.7" font-size="3.4" fill="#000" stroke="#000" stroke-width=".16" text-anchor="middle">3</text>
<text x="521.24" y="226.7" font-size="3.4" fill="#000" stroke="#000" stroke-width=".16" text-anchor="middle">4</text>
<text x="544.4" y="226.7" font-size="3.4" fill="#000" stroke="#000" stroke-width=".16" text-anchor="middle">5</text>
<text x="486.7" y="233.4" font-size="5.7" fill="#0a0a0a" stroke="#0a0a0a" stroke-width=".2" text-anchor="middle">Range (m)</text>
<text transform="translate(419.2 176.35) rotate(-90)" font-size="5.7" fill="#0a0a0a" stroke="#0a0a0a" stroke-width=".2" text-anchor="middle">Speed (m/s)</text>
</svg></body></html>
